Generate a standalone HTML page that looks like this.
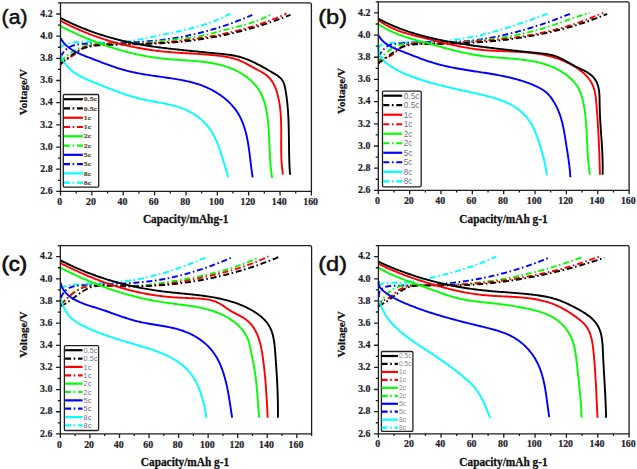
<!DOCTYPE html>
<html><head><meta charset="utf-8"><style>
html,body{margin:0;padding:0;background:#fff;width:637px;height:469px;overflow:hidden}
svg{display:block}
.tk{font-family:"Liberation Serif",serif;font-weight:bold;font-size:9.9px;fill:#1c1c28;stroke:#1c1c28;stroke-width:0.2px}
.ttl{font-family:"Liberation Serif",serif;font-weight:bold;font-size:11px;fill:#111;stroke:#111;stroke-width:0.25px}
.pl{font-family:"Liberation Sans",sans-serif;font-size:20.8px;fill:#111;stroke:#111;stroke-width:0.5px}
.lg-serif{font-family:"Liberation Serif",serif;font-weight:bold;font-size:6.6px;fill:#5e5040;stroke:#5e5040;stroke-width:0.2px}
.lg-sans{font-family:"Liberation Sans",sans-serif;font-size:8.2px;fill:#707080}
.lg-sansc{font-family:"Liberation Sans",sans-serif;font-size:7.3px;fill:#7a7088}
.lg-sans2{font-family:"Liberation Sans",sans-serif;font-size:6.6px;fill:#8c8896}
</style></head><body>
<svg width="637" height="469" viewBox="0 0 637 469">
<rect width="637" height="469" fill="#fff"/>
<path d="M60.90,47.20 L62.08,46.15 L63.39,45.42 L64.73,44.77 L66.10,44.22 L67.49,43.74 L68.91,43.33 L70.34,42.99 L71.79,42.69 L73.24,42.45 L74.71,42.24 L76.19,42.07 L77.68,41.94 L79.17,41.84 L80.67,41.77 L82.18,41.73 L83.69,41.72 L85.21,41.72 L86.74,41.75 L88.27,41.79 L89.80,41.85 L91.34,41.91 L92.88,41.99 L94.42,42.07 L95.96,42.16 L97.51,42.25 L99.05,42.33 L100.60,42.41 L102.14,42.48 L103.69,42.55 L105.23,42.60 L106.77,42.63 L108.31,42.65 L109.84,42.64 L111.37,42.62 L112.90,42.58 L114.42,42.52 L115.94,42.44 L117.46,42.35 L118.97,42.24 L120.48,42.11 L122.00,41.97 L123.50,41.82 L125.01,41.65 L126.51,41.46 L128.01,41.27 L129.51,41.06 L131.01,40.84 L132.51,40.62 L134.00,40.38 L135.49,40.13 L136.99,39.87 L138.48,39.61 L139.97,39.34 L141.46,39.06 L142.94,38.77 L144.43,38.48 L145.92,38.19 L147.40,37.89 L148.89,37.59 L150.38,37.28 L151.86,36.98 L153.35,36.67 L154.83,36.36 L156.32,36.05 L157.81,35.74 L159.29,35.43 L160.78,35.12 L162.27,34.81 L163.75,34.50 L165.24,34.20 L166.73,33.89 L168.22,33.58 L169.70,33.27 L171.19,32.95 L172.68,32.64 L174.16,32.32 L175.64,32.00 L177.13,31.67 L178.61,31.35 L180.09,31.01 L181.57,30.68 L183.05,30.33 L184.53,29.99 L186.00,29.63 L187.47,29.27 L188.94,28.91 L190.41,28.54 L191.88,28.16 L193.34,27.77 L194.80,27.37 L196.26,26.97 L197.72,26.56 L199.17,26.13 L200.62,25.70 L202.07,25.26 L203.51,24.81 L204.95,24.34 L206.39,23.87 L207.82,23.38 L209.25,22.89 L210.68,22.38 L212.10,21.85 L213.52,21.32 L214.93,20.77 L216.34,20.21 L217.74,19.63 L219.14,19.04 L220.54,18.43 L221.93,17.81 L223.31,17.17 L224.69,16.51 L226.06,15.84 L227.43,15.15 L228.80,14.45 L230.20,13.90" stroke="#00ffff" stroke-width="1.9" fill="none" stroke-linejoin="round" stroke-dasharray="6 2.6 1.6 2.8"/>
<path d="M60.90,56.80 L61.51,55.30 L62.39,53.80 L63.33,52.44 L64.32,51.21 L65.38,50.10 L66.49,49.11 L67.64,48.23 L68.85,47.45 L70.10,46.77 L71.39,46.18 L72.72,45.67 L74.09,45.23 L75.49,44.87 L76.91,44.57 L78.36,44.33 L79.83,44.14 L81.33,43.99 L82.84,43.88 L84.36,43.79 L85.89,43.74 L87.43,43.69 L88.97,43.66 L90.51,43.63 L92.05,43.61 L93.59,43.58 L95.13,43.55 L96.67,43.52 L98.21,43.50 L99.74,43.47 L101.28,43.44 L102.81,43.40 L104.35,43.37 L105.88,43.34 L107.41,43.30 L108.94,43.27 L110.46,43.23 L111.99,43.19 L113.52,43.14 L115.04,43.10 L116.57,43.05 L118.09,43.00 L119.61,42.95 L121.13,42.90 L122.65,42.84 L124.17,42.78 L125.69,42.71 L127.21,42.65 L128.72,42.58 L130.24,42.50 L131.75,42.43 L133.27,42.34 L134.78,42.26 L136.29,42.17 L137.81,42.08 L139.32,41.98 L140.83,41.88 L142.34,41.77 L143.85,41.66 L145.35,41.54 L146.86,41.42 L148.37,41.29 L149.87,41.16 L151.38,41.02 L152.88,40.87 L154.39,40.73 L155.89,40.57 L157.39,40.41 L158.90,40.24 L160.40,40.07 L161.90,39.89 L163.40,39.70 L164.90,39.50 L166.40,39.30 L167.90,39.10 L169.40,38.88 L170.89,38.66 L172.39,38.43 L173.89,38.19 L175.39,37.95 L176.88,37.69 L178.38,37.43 L179.87,37.16 L181.37,36.89 L182.86,36.61 L184.35,36.32 L185.84,36.02 L187.33,35.72 L188.82,35.40 L190.31,35.08 L191.80,34.76 L193.28,34.42 L194.77,34.08 L196.25,33.74 L197.73,33.38 L199.21,33.02 L200.69,32.65 L202.17,32.27 L203.64,31.89 L205.11,31.50 L206.59,31.10 L208.05,30.70 L209.52,30.29 L210.99,29.87 L212.45,29.45 L213.91,29.02 L215.37,28.58 L216.83,28.13 L218.28,27.68 L219.73,27.22 L221.18,26.76 L222.63,26.29 L224.07,25.81 L225.51,25.33 L226.95,24.84 L228.39,24.34 L229.82,23.83 L231.25,23.32 L232.68,22.81 L234.10,22.29 L235.52,21.76 L236.94,21.22 L238.35,20.68 L239.77,20.13 L241.17,19.58 L242.58,19.02 L243.98,18.45 L245.37,17.88 L246.77,17.30 L248.16,16.72 L249.54,16.13 L250.92,15.53 L252.30,14.80" stroke="#0000ff" stroke-width="1.9" fill="none" stroke-linejoin="round" stroke-dasharray="6 2.6 1.6 2.8"/>
<path d="M60.40,61.10 L61.64,60.28 L62.81,59.28 L63.98,58.29 L65.16,57.30 L66.35,56.32 L67.55,55.35 L68.77,54.41 L70.00,53.49 L71.24,52.61 L72.51,51.76 L73.80,50.96 L75.11,50.20 L76.43,49.49 L77.78,48.83 L79.15,48.21 L80.53,47.63 L81.93,47.09 L83.34,46.60 L84.76,46.14 L86.20,45.73 L87.65,45.35 L89.10,45.01 L90.57,44.71 L92.04,44.44 L93.52,44.21 L95.01,44.01 L96.50,43.84 L98.00,43.69 L99.50,43.58 L101.01,43.48 L102.52,43.41 L104.04,43.36 L105.56,43.33 L107.08,43.31 L108.61,43.31 L110.14,43.33 L111.68,43.35 L113.21,43.38 L114.75,43.42 L116.29,43.47 L117.83,43.52 L119.37,43.57 L120.91,43.62 L122.45,43.66 L123.99,43.71 L125.53,43.75 L127.06,43.77 L128.60,43.79 L130.13,43.80 L131.66,43.80 L133.19,43.78 L134.72,43.74 L136.24,43.68 L137.76,43.60 L139.27,43.50 L140.78,43.38 L142.29,43.24 L143.79,43.08 L145.29,42.91 L146.79,42.72 L148.29,42.53 L149.79,42.33 L151.28,42.12 L152.78,41.92 L154.27,41.71 L155.77,41.50 L157.27,41.30 L158.77,41.11 L160.27,40.92 L161.78,40.74 L163.29,40.57 L164.79,40.41 L166.30,40.25 L167.81,40.09 L169.33,39.94 L170.84,39.79 L172.35,39.64 L173.87,39.49 L175.38,39.34 L176.90,39.19 L178.41,39.04 L179.92,38.88 L181.44,38.72 L182.95,38.56 L184.46,38.39 L185.98,38.21 L187.49,38.03 L188.99,37.84 L190.50,37.64 L192.01,37.43 L193.51,37.21 L195.01,36.98 L196.51,36.74 L198.01,36.48 L199.50,36.21 L200.99,35.92 L202.48,35.62 L203.96,35.30 L205.45,34.97 L206.92,34.62 L208.40,34.25 L209.87,33.88 L211.35,33.50 L212.82,33.11 L214.29,32.72 L215.76,32.33 L217.23,31.94 L218.70,31.55 L220.18,31.17 L221.65,30.79 L223.12,30.42 L224.60,30.05 L226.07,29.68 L227.55,29.31 L229.02,28.94 L230.49,28.56 L231.97,28.19 L233.44,27.82 L234.91,27.44 L236.38,27.06 L237.85,26.67 L239.31,26.28 L240.78,25.88 L242.24,25.47 L243.70,25.06 L245.15,24.64 L246.61,24.21 L248.06,23.77 L249.50,23.32 L250.95,22.85 L252.38,22.38 L253.82,21.89 L255.25,21.39 L256.68,20.87 L258.10,20.34 L259.51,19.79 L260.92,19.23 L262.33,18.64 L263.73,18.04 L265.13,17.42 L266.51,16.78 L267.90,16.12 L269.27,15.44 L270.64,14.73 L272.00,14.00" stroke="#00ff00" stroke-width="1.9" fill="none" stroke-linejoin="round" stroke-dasharray="6 2.6 1.6 2.8"/>
<path d="M60.40,65.00 L61.41,63.82 L62.50,62.76 L63.64,61.76 L64.82,60.83 L66.04,59.94 L67.29,59.09 L68.55,58.27 L69.84,57.46 L71.12,56.66 L72.41,55.85 L73.69,55.02 L74.95,54.17 L76.19,53.27 L77.40,52.32 L78.59,51.33 L79.76,50.33 L80.94,49.36 L82.14,48.46 L83.39,47.66 L84.71,47.01 L86.09,46.51 L87.52,46.13 L88.98,45.82 L90.45,45.55 L91.93,45.31 L93.42,45.09 L94.91,44.90 L96.40,44.72 L97.90,44.57 L99.40,44.43 L100.90,44.32 L102.41,44.21 L103.92,44.13 L105.43,44.05 L106.95,44.00 L108.47,43.95 L109.99,43.91 L111.51,43.89 L113.03,43.87 L114.56,43.86 L116.09,43.86 L117.62,43.86 L119.14,43.87 L120.67,43.88 L122.20,43.89 L123.73,43.91 L125.26,43.92 L126.79,43.94 L128.32,43.95 L129.85,43.96 L131.37,43.96 L132.90,43.96 L134.42,43.96 L135.95,43.94 L137.47,43.92 L138.99,43.89 L140.50,43.85 L142.02,43.80 L143.53,43.74 L145.04,43.67 L146.55,43.59 L148.06,43.51 L149.57,43.42 L151.07,43.33 L152.58,43.23 L154.09,43.12 L155.59,43.01 L157.10,42.90 L158.60,42.78 L160.11,42.66 L161.62,42.53 L163.13,42.41 L164.63,42.27 L166.14,42.14 L167.65,42.00 L169.16,41.86 L170.67,41.72 L172.17,41.57 L173.68,41.42 L175.19,41.26 L176.70,41.10 L178.21,40.94 L179.71,40.77 L181.22,40.60 L182.73,40.42 L184.24,40.24 L185.74,40.06 L187.25,39.87 L188.76,39.67 L190.26,39.48 L191.77,39.28 L193.27,39.07 L194.78,38.86 L196.28,38.64 L197.78,38.42 L199.28,38.20 L200.79,37.97 L202.29,37.73 L203.79,37.49 L205.29,37.25 L206.78,37.00 L208.28,36.74 L209.78,36.48 L211.27,36.22 L212.77,35.95 L214.26,35.67 L215.75,35.39 L217.24,35.10 L218.73,34.81 L220.22,34.51 L221.71,34.20 L223.19,33.89 L224.67,33.58 L226.16,33.26 L227.64,32.93 L229.12,32.60 L230.60,32.26 L232.07,31.91 L233.55,31.56 L235.02,31.20 L236.49,30.83 L237.96,30.46 L239.43,30.08 L240.90,29.70 L242.36,29.31 L243.82,28.91 L245.28,28.51 L246.74,28.10 L248.20,27.68 L249.65,27.25 L251.10,26.82 L252.55,26.38 L254.00,25.94 L255.44,25.48 L256.89,25.02 L258.33,24.55 L259.77,24.08 L261.20,23.60 L262.64,23.11 L264.07,22.61 L265.49,22.10 L266.92,21.59 L268.34,21.07 L269.76,20.54 L271.18,20.01 L272.60,19.46 L274.01,18.91 L275.42,18.35 L276.82,17.78 L278.23,17.21 L279.63,16.62 L281.02,16.03 L282.42,15.43 L283.81,14.82 L285.20,14.20 L286.50,13.40" stroke="#ff0000" stroke-width="1.9" fill="none" stroke-linejoin="round" stroke-dasharray="6 2.6 1.6 2.8"/>
<path d="M60.40,63.50 L61.69,62.84 L62.92,61.95 L64.14,61.04 L65.35,60.10 L66.57,59.15 L67.79,58.19 L69.01,57.23 L70.23,56.27 L71.46,55.33 L72.70,54.40 L73.95,53.50 L75.21,52.63 L76.49,51.80 L77.78,51.01 L79.09,50.28 L80.41,49.61 L81.76,48.99 L83.13,48.44 L84.51,47.94 L85.91,47.50 L87.32,47.11 L88.75,46.76 L90.20,46.45 L91.65,46.19 L93.12,45.96 L94.60,45.76 L96.08,45.60 L97.58,45.46 L99.08,45.34 L100.59,45.25 L102.10,45.17 L103.62,45.10 L105.13,45.05 L106.66,45.00 L108.18,44.96 L109.70,44.92 L111.22,44.88 L112.74,44.83 L114.26,44.79 L115.78,44.76 L117.30,44.72 L118.82,44.68 L120.34,44.64 L121.86,44.60 L123.38,44.56 L124.89,44.52 L126.41,44.49 L127.93,44.45 L129.45,44.41 L130.96,44.36 L132.48,44.32 L134.00,44.28 L135.51,44.24 L137.03,44.19 L138.54,44.14 L140.06,44.10 L141.57,44.04 L143.09,43.99 L144.60,43.94 L146.11,43.88 L147.63,43.82 L149.14,43.76 L150.65,43.70 L152.16,43.64 L153.67,43.57 L155.19,43.50 L156.70,43.42 L158.21,43.34 L159.72,43.26 L161.23,43.18 L162.73,43.09 L164.24,43.00 L165.75,42.90 L167.26,42.80 L168.77,42.70 L170.27,42.59 L171.78,42.48 L173.28,42.36 L174.79,42.24 L176.29,42.12 L177.80,41.99 L179.30,41.85 L180.81,41.71 L182.31,41.56 L183.81,41.41 L185.31,41.25 L186.82,41.09 L188.32,40.92 L189.82,40.74 L191.32,40.56 L192.82,40.38 L194.31,40.18 L195.81,39.98 L197.31,39.78 L198.81,39.57 L200.30,39.35 L201.80,39.13 L203.29,38.90 L204.79,38.67 L206.28,38.43 L207.77,38.18 L209.26,37.93 L210.76,37.67 L212.24,37.41 L213.73,37.14 L215.22,36.86 L216.71,36.58 L218.19,36.29 L219.68,36.00 L221.16,35.70 L222.64,35.40 L224.13,35.09 L225.61,34.77 L227.08,34.45 L228.56,34.12 L230.04,33.79 L231.51,33.45 L232.99,33.11 L234.46,32.75 L235.93,32.40 L237.40,32.04 L238.87,31.67 L240.34,31.30 L241.80,30.92 L243.27,30.53 L244.73,30.14 L246.19,29.75 L247.65,29.34 L249.11,28.94 L250.56,28.52 L252.02,28.11 L253.47,27.68 L254.92,27.25 L256.37,26.82 L257.82,26.38 L259.26,25.93 L260.71,25.48 L262.15,25.02 L263.59,24.56 L265.03,24.09 L266.46,23.61 L267.90,23.13 L269.33,22.65 L270.76,22.16 L272.19,21.66 L273.61,21.16 L275.04,20.65 L276.46,20.14 L277.88,19.62 L279.30,19.10 L280.71,18.57 L282.12,18.03 L283.54,17.49 L284.94,16.95 L286.35,16.39 L287.75,15.84 L289.16,15.28 L290.60,14.80" stroke="#000000" stroke-width="1.9" fill="none" stroke-linejoin="round" stroke-dasharray="6 2.6 1.6 2.8"/>
<path d="M60.70,55.00 L61.11,56.54 L61.73,58.00 L62.41,59.40 L63.15,60.75 L63.93,62.05 L64.77,63.29 L65.65,64.49 L66.58,65.63 L67.55,66.74 L68.56,67.79 L69.61,68.81 L70.70,69.79 L71.83,70.73 L72.99,71.63 L74.18,72.50 L75.40,73.33 L76.65,74.14 L77.93,74.91 L79.23,75.66 L80.55,76.38 L81.89,77.08 L83.25,77.76 L84.63,78.42 L86.02,79.07 L87.42,79.69 L88.84,80.30 L90.26,80.90 L91.69,81.49 L93.12,82.07 L94.56,82.65 L95.99,83.21 L97.43,83.78 L98.86,84.35 L100.29,84.91 L101.71,85.48 L103.13,86.04 L104.55,86.60 L105.96,87.16 L107.37,87.72 L108.78,88.27 L110.19,88.82 L111.59,89.37 L113.00,89.91 L114.40,90.45 L115.81,90.98 L117.21,91.51 L118.62,92.03 L120.02,92.54 L121.43,93.04 L122.84,93.54 L124.25,94.03 L125.67,94.51 L127.08,94.98 L128.50,95.44 L129.93,95.90 L131.36,96.34 L132.79,96.77 L134.23,97.18 L135.67,97.59 L137.12,97.98 L138.57,98.36 L140.04,98.73 L141.50,99.08 L142.98,99.41 L144.46,99.74 L145.95,100.05 L147.45,100.35 L148.94,100.64 L150.45,100.93 L151.95,101.21 L153.46,101.48 L154.97,101.76 L156.48,102.03 L157.99,102.31 L159.50,102.58 L161.01,102.86 L162.52,103.15 L164.03,103.44 L165.53,103.75 L167.03,104.06 L168.52,104.38 L170.01,104.72 L171.49,105.08 L172.96,105.45 L174.43,105.84 L175.89,106.25 L177.34,106.68 L178.78,107.13 L180.21,107.61 L181.63,108.12 L183.03,108.65 L184.43,109.22 L185.81,109.81 L187.17,110.44 L188.52,111.10 L189.86,111.79 L191.17,112.51 L192.47,113.26 L193.75,114.04 L195.01,114.85 L196.25,115.70 L197.47,116.57 L198.66,117.47 L199.83,118.41 L200.98,119.37 L202.10,120.36 L203.19,121.38 L204.25,122.43 L205.29,123.50 L206.30,124.61 L207.27,125.74 L208.21,126.90 L209.12,128.09 L210.00,129.30 L210.84,130.54 L211.66,131.81 L212.44,133.10 L213.19,134.41 L213.91,135.74 L214.61,137.09 L215.28,138.46 L215.93,139.84 L216.56,141.24 L217.16,142.66 L217.74,144.08 L218.31,145.52 L218.85,146.97 L219.38,148.43 L219.90,149.89 L220.40,151.36 L220.88,152.83 L221.36,154.31 L221.82,155.79 L222.28,157.27 L222.73,158.75 L223.17,160.22 L223.60,161.70 L224.03,163.16 L224.46,164.63 L224.89,166.08 L225.31,167.52 L225.74,168.96 L226.17,170.38 L226.60,171.79 L227.04,173.19 L227.48,174.57 L227.93,175.93 L228.40,177.30" stroke="#00ffff" stroke-width="1.9" fill="none" stroke-linejoin="round"/>
<path d="M60.70,38.20 L61.40,39.63 L62.27,40.91 L63.19,42.13 L64.16,43.28 L65.17,44.37 L66.23,45.41 L67.33,46.39 L68.47,47.33 L69.65,48.21 L70.85,49.05 L72.10,49.85 L73.37,50.61 L74.66,51.34 L75.98,52.03 L77.32,52.70 L78.69,53.34 L80.06,53.96 L81.46,54.55 L82.86,55.13 L84.28,55.70 L85.70,56.26 L87.13,56.81 L88.55,57.36 L89.98,57.90 L91.41,58.45 L92.83,59.00 L94.26,59.54 L95.68,60.09 L97.10,60.64 L98.51,61.19 L99.93,61.73 L101.35,62.27 L102.77,62.81 L104.18,63.34 L105.60,63.87 L107.02,64.40 L108.43,64.92 L109.85,65.43 L111.27,65.93 L112.69,66.43 L114.12,66.91 L115.54,67.39 L116.97,67.86 L118.40,68.32 L119.84,68.76 L121.27,69.20 L122.71,69.62 L124.15,70.02 L125.60,70.42 L127.05,70.80 L128.51,71.16 L129.97,71.52 L131.43,71.86 L132.90,72.18 L134.37,72.50 L135.84,72.80 L137.31,73.10 L138.79,73.38 L140.27,73.66 L141.76,73.93 L143.24,74.19 L144.73,74.44 L146.22,74.68 L147.71,74.92 L149.20,75.16 L150.70,75.38 L152.19,75.61 L153.69,75.83 L155.19,76.05 L156.69,76.26 L158.18,76.47 L159.68,76.68 L161.18,76.90 L162.68,77.11 L164.18,77.32 L165.68,77.53 L167.18,77.74 L168.68,77.96 L170.18,78.17 L171.67,78.40 L173.17,78.63 L174.66,78.86 L176.15,79.10 L177.64,79.35 L179.13,79.61 L180.62,79.88 L182.10,80.16 L183.58,80.45 L185.05,80.76 L186.52,81.08 L187.99,81.41 L189.46,81.76 L190.92,82.12 L192.37,82.50 L193.82,82.90 L195.27,83.32 L196.71,83.76 L198.15,84.22 L199.58,84.70 L201.00,85.20 L202.42,85.73 L203.83,86.28 L205.24,86.86 L206.64,87.46 L208.03,88.09 L209.41,88.75 L210.78,89.43 L212.14,90.14 L213.49,90.87 L214.82,91.63 L216.14,92.41 L217.44,93.22 L218.73,94.05 L220.00,94.91 L221.25,95.79 L222.49,96.69 L223.70,97.62 L224.88,98.57 L226.05,99.55 L227.19,100.55 L228.31,101.57 L229.40,102.62 L230.46,103.69 L231.49,104.78 L232.49,105.89 L233.47,107.03 L234.41,108.19 L235.31,109.37 L236.19,110.57 L237.03,111.80 L237.83,113.04 L238.60,114.31 L239.33,115.59 L240.02,116.90 L240.69,118.22 L241.32,119.57 L241.92,120.92 L242.49,122.30 L243.04,123.69 L243.55,125.09 L244.04,126.51 L244.51,127.94 L244.95,129.39 L245.36,130.84 L245.76,132.31 L246.13,133.78 L246.48,135.27 L246.82,136.76 L247.13,138.26 L247.43,139.77 L247.72,141.28 L247.99,142.79 L248.25,144.32 L248.49,145.84 L248.72,147.37 L248.94,148.90 L249.16,150.42 L249.36,151.95 L249.56,153.48 L249.75,155.01 L249.94,156.54 L250.12,158.06 L250.30,159.58 L250.48,161.09 L250.66,162.60 L250.84,164.10 L251.02,165.60 L251.21,167.08 L251.39,168.56 L251.59,170.03 L251.79,171.49 L251.99,172.94 L252.21,174.37 L252.43,175.79 L252.60,177.30" stroke="#0000ff" stroke-width="1.9" fill="none" stroke-linejoin="round"/>
<path d="M60.60,26.20 L61.90,26.90 L63.27,27.58 L64.65,28.26 L66.02,28.94 L67.40,29.61 L68.78,30.27 L70.16,30.93 L71.54,31.58 L72.92,32.23 L74.30,32.87 L75.69,33.50 L77.07,34.13 L78.46,34.75 L79.85,35.37 L81.24,35.98 L82.63,36.58 L84.02,37.18 L85.42,37.77 L86.81,38.35 L88.21,38.93 L89.61,39.50 L91.01,40.07 L92.41,40.63 L93.81,41.18 L95.22,41.72 L96.63,42.26 L98.04,42.79 L99.45,43.31 L100.86,43.83 L102.28,44.34 L103.69,44.84 L105.11,45.34 L106.53,45.83 L107.95,46.31 L109.38,46.78 L110.80,47.25 L112.23,47.71 L113.66,48.16 L115.09,48.60 L116.53,49.04 L117.96,49.47 L119.40,49.89 L120.84,50.30 L122.29,50.71 L123.73,51.11 L125.18,51.50 L126.63,51.88 L128.08,52.25 L129.54,52.62 L130.99,52.97 L132.45,53.32 L133.92,53.67 L135.38,54.00 L136.85,54.32 L138.32,54.64 L139.79,54.94 L141.26,55.24 L142.74,55.53 L144.22,55.81 L145.70,56.09 L147.19,56.35 L148.68,56.61 L150.17,56.85 L151.66,57.09 L153.16,57.32 L154.66,57.54 L156.16,57.75 L157.66,57.95 L159.17,58.14 L160.68,58.32 L162.19,58.50 L163.71,58.66 L165.23,58.81 L166.75,58.96 L168.28,59.10 L169.81,59.23 L171.34,59.35 L172.87,59.47 L174.40,59.58 L175.94,59.68 L177.47,59.79 L179.01,59.89 L180.54,59.99 L182.08,60.09 L183.62,60.19 L185.15,60.29 L186.69,60.39 L188.22,60.50 L189.76,60.61 L191.29,60.72 L192.82,60.84 L194.34,60.96 L195.87,61.09 L197.39,61.22 L198.91,61.37 L200.43,61.53 L201.94,61.69 L203.45,61.87 L204.96,62.05 L206.46,62.25 L207.96,62.47 L209.45,62.69 L210.93,62.94 L212.41,63.19 L213.89,63.47 L215.36,63.76 L216.82,64.07 L218.28,64.40 L219.73,64.75 L221.17,65.12 L222.61,65.51 L224.03,65.93 L225.45,66.37 L226.87,66.83 L228.27,67.32 L229.66,67.83 L231.05,68.37 L232.42,68.94 L233.79,69.54 L235.15,70.16 L236.49,70.82 L237.83,71.50 L239.16,72.22 L240.47,72.97 L241.77,73.75 L243.05,74.56 L244.31,75.40 L245.56,76.27 L246.78,77.18 L247.98,78.11 L249.16,79.07 L250.31,80.06 L251.43,81.09 L252.52,82.14 L253.58,83.22 L254.60,84.32 L255.59,85.46 L256.54,86.63 L257.45,87.82 L258.32,89.04 L259.15,90.29 L259.94,91.56 L260.67,92.87 L261.36,94.19 L262.01,95.55 L262.60,96.93 L263.16,98.33 L263.67,99.75 L264.15,101.18 L264.59,102.64 L265.00,104.10 L265.38,105.58 L265.72,107.07 L266.04,108.57 L266.34,110.08 L266.61,111.58 L266.87,113.10 L267.10,114.61 L267.32,116.12 L267.53,117.64 L267.72,119.15 L267.89,120.66 L268.05,122.18 L268.20,123.69 L268.34,125.21 L268.46,126.72 L268.58,128.24 L268.69,129.76 L268.79,131.27 L268.88,132.79 L268.96,134.30 L269.04,135.82 L269.11,137.33 L269.18,138.85 L269.25,140.36 L269.31,141.87 L269.37,143.39 L269.43,144.90 L269.49,146.41 L269.55,147.92 L269.62,149.44 L269.68,150.95 L269.75,152.46 L269.82,153.97 L269.89,155.47 L269.98,156.98 L270.06,158.49 L270.16,159.99 L270.26,161.50 L270.37,163.00 L270.50,164.51 L270.63,166.01 L270.77,167.51 L270.93,169.01 L271.10,170.50 L271.28,172.00 L271.47,173.49 L271.69,174.99 L271.92,176.48 L272.10,178.00" stroke="#00ff00" stroke-width="1.9" fill="none" stroke-linejoin="round"/>
<path d="M60.60,20.80 L61.93,21.53 L63.27,22.23 L64.61,22.93 L65.95,23.62 L67.30,24.30 L68.66,24.97 L70.02,25.64 L71.38,26.29 L72.74,26.94 L74.11,27.58 L75.48,28.21 L76.86,28.83 L78.24,29.45 L79.62,30.06 L81.01,30.65 L82.40,31.24 L83.79,31.82 L85.19,32.40 L86.59,32.96 L88.00,33.52 L89.40,34.07 L90.81,34.61 L92.22,35.14 L93.64,35.67 L95.06,36.19 L96.48,36.69 L97.91,37.19 L99.33,37.69 L100.76,38.17 L102.20,38.65 L103.63,39.12 L105.07,39.58 L106.51,40.03 L107.95,40.48 L109.40,40.91 L110.85,41.34 L112.30,41.76 L113.75,42.18 L115.21,42.58 L116.67,42.98 L118.13,43.37 L119.59,43.75 L121.05,44.12 L122.52,44.49 L123.99,44.85 L125.46,45.20 L126.93,45.54 L128.40,45.88 L129.88,46.20 L131.36,46.52 L132.84,46.84 L134.32,47.14 L135.80,47.44 L137.28,47.73 L138.77,48.01 L140.26,48.28 L141.74,48.55 L143.23,48.81 L144.72,49.06 L146.22,49.30 L147.71,49.54 L149.21,49.76 L150.70,49.98 L152.20,50.20 L153.70,50.40 L155.19,50.60 L156.69,50.79 L158.20,50.98 L159.70,51.15 L161.20,51.32 L162.70,51.48 L164.21,51.63 L165.71,51.78 L167.22,51.92 L168.72,52.05 L170.23,52.18 L171.73,52.30 L173.24,52.42 L174.75,52.53 L176.26,52.63 L177.76,52.73 L179.27,52.83 L180.78,52.93 L182.29,53.02 L183.80,53.11 L185.31,53.20 L186.82,53.29 L188.33,53.38 L189.83,53.47 L191.34,53.56 L192.85,53.64 L194.36,53.73 L195.87,53.83 L197.38,53.92 L198.89,54.02 L200.39,54.12 L201.90,54.22 L203.41,54.32 L204.92,54.44 L206.42,54.55 L207.93,54.67 L209.43,54.80 L210.94,54.93 L212.44,55.08 L213.95,55.22 L215.45,55.38 L216.95,55.54 L218.45,55.71 L219.95,55.89 L221.45,56.09 L222.95,56.30 L224.44,56.52 L225.92,56.77 L227.40,57.03 L228.87,57.33 L230.34,57.64 L231.79,57.99 L233.23,58.37 L234.67,58.78 L236.09,59.24 L237.49,59.72 L238.88,60.26 L240.26,60.83 L241.63,61.43 L242.99,62.07 L244.34,62.74 L245.69,63.43 L247.03,64.14 L248.38,64.86 L249.73,65.60 L251.08,66.34 L252.45,67.08 L253.82,67.83 L255.20,68.56 L256.60,69.30 L257.99,70.03 L259.38,70.77 L260.75,71.53 L262.10,72.31 L263.41,73.11 L264.69,73.95 L265.92,74.83 L267.09,75.75 L268.20,76.73 L269.24,77.76 L270.21,78.85 L271.11,79.98 L271.95,81.17 L272.74,82.39 L273.47,83.66 L274.14,84.96 L274.77,86.29 L275.35,87.66 L275.89,89.04 L276.38,90.45 L276.84,91.88 L277.26,93.32 L277.66,94.78 L278.02,96.24 L278.36,97.71 L278.68,99.18 L278.97,100.66 L279.24,102.14 L279.48,103.62 L279.71,105.11 L279.92,106.60 L280.10,108.10 L280.27,109.60 L280.42,111.10 L280.56,112.61 L280.68,114.12 L280.78,115.63 L280.87,117.14 L280.95,118.66 L281.01,120.18 L281.07,121.70 L281.11,123.22 L281.15,124.74 L281.17,126.27 L281.19,127.80 L281.21,129.32 L281.21,130.85 L281.21,132.38 L281.21,133.91 L281.21,135.44 L281.20,136.97 L281.19,138.50 L281.19,140.03 L281.18,141.55 L281.17,143.08 L281.17,144.61 L281.17,146.13 L281.17,147.66 L281.18,149.18 L281.19,150.70 L281.22,152.22 L281.25,153.74 L281.28,155.25 L281.33,156.76 L281.39,158.27 L281.46,159.78 L281.54,161.28 L281.64,162.79 L281.75,164.28 L281.87,165.78 L282.01,167.27 L282.17,168.75 L282.34,170.23 L282.54,171.71 L282.75,173.19 L282.90,174.70" stroke="#ff0000" stroke-width="1.9" fill="none" stroke-linejoin="round"/>
<path d="M60.60,18.10 L61.96,18.73 L63.31,19.41 L64.66,20.09 L66.02,20.75 L67.38,21.41 L68.75,22.06 L70.11,22.70 L71.48,23.33 L72.86,23.95 L74.24,24.57 L75.62,25.18 L77.00,25.77 L78.39,26.37 L79.78,26.95 L81.18,27.52 L82.57,28.09 L83.97,28.65 L85.38,29.20 L86.78,29.75 L88.19,30.28 L89.60,30.81 L91.02,31.33 L92.44,31.84 L93.86,32.34 L95.28,32.84 L96.71,33.33 L98.13,33.81 L99.56,34.28 L101.00,34.75 L102.43,35.21 L103.87,35.66 L105.31,36.10 L106.76,36.54 L108.20,36.96 L109.65,37.38 L111.10,37.80 L112.55,38.20 L114.01,38.60 L115.46,38.99 L116.92,39.37 L118.38,39.75 L119.84,40.12 L121.31,40.48 L122.77,40.83 L124.24,41.18 L125.71,41.52 L127.18,41.85 L128.65,42.18 L130.13,42.49 L131.60,42.80 L133.08,43.11 L134.56,43.40 L136.04,43.69 L137.52,43.97 L139.00,44.25 L140.49,44.52 L141.97,44.78 L143.46,45.04 L144.95,45.28 L146.44,45.53 L147.93,45.76 L149.42,46.00 L150.91,46.22 L152.40,46.44 L153.90,46.66 L155.39,46.87 L156.89,47.07 L158.38,47.27 L159.88,47.47 L161.37,47.66 L162.87,47.85 L164.37,48.04 L165.87,48.22 L167.37,48.40 L168.87,48.57 L170.36,48.74 L171.86,48.91 L173.36,49.08 L174.86,49.24 L176.36,49.41 L177.86,49.56 L179.36,49.72 L180.86,49.88 L182.36,50.03 L183.86,50.19 L185.36,50.34 L186.85,50.49 L188.35,50.64 L189.85,50.80 L191.34,50.95 L192.84,51.10 L194.34,51.25 L195.83,51.40 L197.33,51.55 L198.82,51.70 L200.32,51.85 L201.81,52.00 L203.31,52.15 L204.81,52.30 L206.31,52.44 L207.81,52.59 L209.31,52.74 L210.81,52.89 L212.31,53.03 L213.82,53.18 L215.33,53.33 L216.84,53.47 L218.35,53.62 L219.87,53.76 L221.38,53.91 L222.90,54.06 L224.41,54.22 L225.93,54.39 L227.44,54.57 L228.94,54.76 L230.44,54.98 L231.94,55.21 L233.42,55.47 L234.90,55.75 L236.37,56.06 L237.83,56.39 L239.27,56.76 L240.71,57.17 L242.13,57.60 L243.54,58.06 L244.95,58.55 L246.34,59.07 L247.73,59.61 L249.10,60.18 L250.48,60.77 L251.84,61.39 L253.20,62.02 L254.56,62.67 L255.91,63.34 L257.26,64.03 L258.60,64.73 L259.95,65.45 L261.29,66.18 L262.63,66.92 L263.97,67.67 L265.31,68.43 L266.66,69.19 L268.01,69.97 L269.35,70.75 L270.71,71.53 L272.07,72.31 L273.43,73.10 L274.78,73.89 L276.10,74.71 L277.38,75.56 L278.60,76.45 L279.74,77.39 L280.79,78.39 L281.73,79.46 L282.54,80.61 L283.22,81.85 L283.79,83.16 L284.26,84.54 L284.65,85.95 L284.98,87.40 L285.27,88.87 L285.54,90.35 L285.79,91.84 L286.04,93.32 L286.26,94.81 L286.48,96.29 L286.68,97.79 L286.87,99.28 L287.05,100.77 L287.22,102.27 L287.37,103.77 L287.52,105.27 L287.66,106.77 L287.78,108.27 L287.90,109.78 L288.01,111.29 L288.11,112.79 L288.20,114.30 L288.28,115.81 L288.36,117.32 L288.43,118.84 L288.49,120.35 L288.55,121.86 L288.60,123.38 L288.65,124.89 L288.69,126.41 L288.73,127.92 L288.76,129.44 L288.80,130.96 L288.82,132.47 L288.85,133.99 L288.87,135.51 L288.89,137.02 L288.91,138.54 L288.93,140.06 L288.95,141.57 L288.97,143.09 L288.99,144.61 L289.01,146.12 L289.03,147.63 L289.05,149.15 L289.07,150.66 L289.10,152.17 L289.13,153.68 L289.16,155.19 L289.19,156.70 L289.23,158.21 L289.28,159.71 L289.33,161.22 L289.38,162.72 L289.44,164.22 L289.51,165.72 L289.58,167.22 L289.66,168.71 L289.74,170.21 L289.84,171.70 L289.94,173.19 L290.00,174.70" stroke="#000000" stroke-width="1.9" fill="none" stroke-linejoin="round"/>
<path d="M60.5,2.9 H309.9 Q311.4,2.9 311.4,4.4 V191.4 H60.5 Z" fill="none" stroke="#1e1e1e" stroke-width="1.3"/>
<path d="M56.2,191.40H60.5 M57.9,180.31H60.5 M56.2,169.22H60.5 M57.9,158.14H60.5 M56.2,147.05H60.5 M57.9,135.96H60.5 M56.2,124.87H60.5 M57.9,113.78H60.5 M56.2,102.69H60.5 M57.9,91.61H60.5 M56.2,80.52H60.5 M57.9,69.43H60.5 M56.2,58.34H60.5 M57.9,47.25H60.5 M56.2,36.16H60.5 M57.9,25.08H60.5 M56.2,13.99H60.5 M57.9,2.90H60.5 M60.50,191.4V195.4 M76.18,191.4V193.6 M91.86,191.4V195.4 M107.54,191.4V193.6 M123.22,191.4V195.4 M138.91,191.4V193.6 M154.59,191.4V195.4 M170.27,191.4V193.6 M185.95,191.4V195.4 M201.63,191.4V193.6 M217.31,191.4V195.4 M232.99,191.4V193.6 M248.67,191.4V195.4 M264.36,191.4V193.6 M280.04,191.4V195.4 M295.72,191.4V193.6 M311.40,191.4V195.4" stroke="#1e1e1e" stroke-width="1.3" fill="none"/>
<text x="52.60" y="194.10" class="tk" text-anchor="end">2.6</text>
<text x="52.60" y="171.92" class="tk" text-anchor="end">2.8</text>
<text x="52.60" y="149.75" class="tk" text-anchor="end">3.0</text>
<text x="52.60" y="127.57" class="tk" text-anchor="end">3.2</text>
<text x="52.60" y="105.39" class="tk" text-anchor="end">3.4</text>
<text x="52.60" y="83.22" class="tk" text-anchor="end">3.6</text>
<text x="52.60" y="61.04" class="tk" text-anchor="end">3.8</text>
<text x="52.60" y="38.86" class="tk" text-anchor="end">4.0</text>
<text x="52.60" y="16.69" class="tk" text-anchor="end">4.2</text>
<text x="59.70" y="205.00" class="tk" text-anchor="middle">0</text>
<text x="91.06" y="205.00" class="tk" text-anchor="middle">20</text>
<text x="122.42" y="205.00" class="tk" text-anchor="middle">40</text>
<text x="153.79" y="205.00" class="tk" text-anchor="middle">60</text>
<text x="185.15" y="205.00" class="tk" text-anchor="middle">80</text>
<text x="216.51" y="205.00" class="tk" text-anchor="middle">100</text>
<text x="247.87" y="205.00" class="tk" text-anchor="middle">120</text>
<text x="279.24" y="205.00" class="tk" text-anchor="middle">140</text>
<text x="310.60" y="205.00" class="tk" text-anchor="middle">160</text>
<text transform="translate(185.7,222.8) scale(1.03,1.2)" class="ttl" text-anchor="middle">Capacity/mAhg-1</text>
<text transform="translate(27.0,92.2) rotate(-90)" class="ttl" text-anchor="middle">Voltage/V</text>
<text transform="translate(1.6,24.2) scale(1.02,1)" class="pl">(a)</text>
<rect x="63.3" y="94.5" width="35.40" height="92.60" rx="1.2" fill="#fff" stroke="#222" stroke-width="1.3"/>
<path d="M64.0,99.20H82.9" stroke="#000000" stroke-width="2.2"/>
<text transform="translate(83.8,101.40) scale(1.18,1)" class="lg-serif">0.5c</text>
<path d="M64.0,108.47H82.9" stroke="#000000" stroke-width="2.2" stroke-dasharray="6 2.6 1.6 2.8"/>
<text transform="translate(83.8,110.67) scale(1.18,1)" class="lg-serif">0.5c</text>
<path d="M64.0,117.74H82.9" stroke="#ff0000" stroke-width="2.2"/>
<text transform="translate(83.8,119.94) scale(1.18,1)" class="lg-serif">1c</text>
<path d="M64.0,127.01H82.9" stroke="#ff0000" stroke-width="2.2" stroke-dasharray="6 2.6 1.6 2.8"/>
<text transform="translate(83.8,129.21) scale(1.18,1)" class="lg-serif">1c</text>
<path d="M64.0,136.28H82.9" stroke="#00ff00" stroke-width="2.2"/>
<text transform="translate(83.8,138.48) scale(1.18,1)" class="lg-serif">2c</text>
<path d="M64.0,145.55H82.9" stroke="#00ff00" stroke-width="2.2" stroke-dasharray="6 2.6 1.6 2.8"/>
<text transform="translate(83.8,147.75) scale(1.18,1)" class="lg-serif">2c</text>
<path d="M64.0,154.82H82.9" stroke="#0000ff" stroke-width="2.2"/>
<text transform="translate(83.8,157.02) scale(1.18,1)" class="lg-serif">5c</text>
<path d="M64.0,164.09H82.9" stroke="#0000ff" stroke-width="2.2" stroke-dasharray="6 2.6 1.6 2.8"/>
<text transform="translate(83.8,166.29) scale(1.18,1)" class="lg-serif">5c</text>
<path d="M64.0,173.36H82.9" stroke="#00ffff" stroke-width="2.2"/>
<text transform="translate(83.8,175.56) scale(1.18,1)" class="lg-serif">8c</text>
<path d="M64.0,182.63H82.9" stroke="#00ffff" stroke-width="2.2" stroke-dasharray="6 2.6 1.6 2.8"/>
<text transform="translate(83.8,184.83) scale(1.18,1)" class="lg-serif">8c</text>
<path d="M378.40,48.20 L379.22,46.57 L380.32,45.48 L381.51,44.64 L382.79,44.01 L384.14,43.56 L385.55,43.25 L387.01,43.06 L388.49,42.94 L389.99,42.87 L391.50,42.81 L393.01,42.76 L394.52,42.71 L396.03,42.67 L397.54,42.62 L399.05,42.58 L400.57,42.54 L402.08,42.50 L403.60,42.47 L405.11,42.43 L406.63,42.40 L408.14,42.36 L409.66,42.33 L411.17,42.30 L412.69,42.26 L414.21,42.23 L415.72,42.19 L417.24,42.15 L418.76,42.11 L420.27,42.07 L421.79,42.02 L423.31,41.98 L424.82,41.93 L426.34,41.87 L427.85,41.81 L429.37,41.75 L430.88,41.68 L432.40,41.61 L433.91,41.54 L435.43,41.45 L436.94,41.37 L438.45,41.27 L439.96,41.17 L441.47,41.06 L442.98,40.95 L444.49,40.83 L446.00,40.70 L447.50,40.56 L449.01,40.41 L450.51,40.26 L452.02,40.09 L453.52,39.92 L455.02,39.74 L456.52,39.55 L458.02,39.34 L459.51,39.13 L461.01,38.91 L462.50,38.67 L463.99,38.43 L465.48,38.18 L466.97,37.92 L468.46,37.65 L469.95,37.37 L471.43,37.08 L472.91,36.78 L474.40,36.48 L475.88,36.16 L477.36,35.84 L478.83,35.51 L480.31,35.18 L481.78,34.83 L483.26,34.48 L484.73,34.12 L486.20,33.75 L487.67,33.38 L489.14,33.00 L490.60,32.61 L492.07,32.22 L493.53,31.82 L494.99,31.41 L496.45,31.00 L497.91,30.58 L499.37,30.16 L500.82,29.73 L502.28,29.29 L503.73,28.86 L505.18,28.41 L506.63,27.96 L508.08,27.51 L509.53,27.05 L510.97,26.58 L512.42,26.12 L513.86,25.64 L515.30,25.17 L516.74,24.69 L518.18,24.21 L519.62,23.72 L521.05,23.23 L522.49,22.74 L523.92,22.24 L525.35,21.74 L526.78,21.24 L528.21,20.74 L529.63,20.23 L531.06,19.73 L532.48,19.22 L533.90,18.70 L535.32,18.19 L536.74,17.68 L538.16,17.16 L539.57,16.64 L540.99,16.12 L542.40,15.61 L543.81,15.09 L545.22,14.56 L546.63,14.04 L548.04,13.52 L549.40,12.80" stroke="#00ffff" stroke-width="1.9" fill="none" stroke-linejoin="round" stroke-dasharray="6 2.6 1.6 2.8"/>
<path d="M378.40,56.80 L379.22,55.54 L380.04,54.18 L380.91,52.84 L381.83,51.54 L382.80,50.29 L383.82,49.12 L384.91,48.04 L386.06,47.07 L387.27,46.23 L388.55,45.53 L389.90,44.99 L391.31,44.59 L392.76,44.29 L394.24,44.06 L395.74,43.87 L397.23,43.69 L398.73,43.53 L400.23,43.38 L401.73,43.25 L403.23,43.12 L404.74,43.01 L406.24,42.91 L407.75,42.82 L409.26,42.74 L410.77,42.67 L412.29,42.60 L413.80,42.55 L415.32,42.50 L416.84,42.46 L418.35,42.42 L419.87,42.39 L421.39,42.37 L422.91,42.35 L424.44,42.33 L425.96,42.32 L427.48,42.31 L429.01,42.30 L430.53,42.29 L432.06,42.28 L433.58,42.28 L435.11,42.27 L436.63,42.26 L438.16,42.25 L439.68,42.24 L441.21,42.22 L442.73,42.20 L444.26,42.18 L445.78,42.15 L447.31,42.12 L448.83,42.08 L450.36,42.04 L451.88,41.99 L453.40,41.93 L454.92,41.86 L456.44,41.78 L457.96,41.70 L459.48,41.60 L460.99,41.50 L462.51,41.39 L464.03,41.26 L465.54,41.13 L467.05,40.99 L468.56,40.85 L470.07,40.69 L471.58,40.52 L473.09,40.35 L474.60,40.17 L476.11,39.98 L477.61,39.78 L479.11,39.57 L480.62,39.36 L482.12,39.13 L483.62,38.90 L485.12,38.67 L486.62,38.42 L488.11,38.17 L489.61,37.90 L491.10,37.63 L492.59,37.36 L494.08,37.07 L495.58,36.78 L497.06,36.48 L498.55,36.18 L500.04,35.87 L501.52,35.55 L503.01,35.22 L504.49,34.89 L505.97,34.54 L507.45,34.20 L508.92,33.84 L510.40,33.48 L511.88,33.12 L513.35,32.74 L514.82,32.37 L516.29,31.98 L517.76,31.59 L519.23,31.19 L520.69,30.79 L522.16,30.38 L523.62,29.96 L525.08,29.54 L526.54,29.11 L528.00,28.68 L529.45,28.24 L530.91,27.80 L532.36,27.35 L533.81,26.89 L535.26,26.44 L536.71,25.97 L538.16,25.50 L539.60,25.03 L541.04,24.55 L542.49,24.06 L543.92,23.57 L545.36,23.08 L546.80,22.58 L548.23,22.08 L549.66,21.57 L551.10,21.06 L552.52,20.54 L553.95,20.02 L555.38,19.50 L556.80,18.97 L558.22,18.43 L559.64,17.90 L561.06,17.36 L562.47,16.81 L563.89,16.26 L565.30,15.71 L566.71,15.16 L568.12,14.60 L569.52,14.04 L570.93,13.47 L572.30,12.80" stroke="#0000ff" stroke-width="1.9" fill="none" stroke-linejoin="round" stroke-dasharray="6 2.6 1.6 2.8"/>
<path d="M378.40,61.60 L379.27,60.35 L380.18,59.14 L381.14,57.97 L382.14,56.83 L383.19,55.73 L384.27,54.66 L385.39,53.63 L386.54,52.63 L387.72,51.67 L388.94,50.75 L390.19,49.86 L391.46,49.01 L392.75,48.20 L394.07,47.43 L395.42,46.71 L396.78,46.05 L398.17,45.46 L399.58,44.94 L401.01,44.50 L402.47,44.13 L403.94,43.84 L405.43,43.60 L406.93,43.43 L408.44,43.30 L409.97,43.22 L411.50,43.17 L413.04,43.15 L414.58,43.16 L416.13,43.18 L417.68,43.21 L419.22,43.24 L420.77,43.27 L422.31,43.29 L423.84,43.31 L425.37,43.31 L426.90,43.31 L428.43,43.31 L429.95,43.30 L431.47,43.28 L432.99,43.25 L434.51,43.22 L436.02,43.18 L437.53,43.14 L439.04,43.10 L440.55,43.04 L442.06,42.99 L443.56,42.92 L445.07,42.86 L446.58,42.79 L448.08,42.71 L449.58,42.63 L451.09,42.55 L452.59,42.47 L454.10,42.38 L455.60,42.29 L457.11,42.19 L458.62,42.09 L460.13,41.99 L461.64,41.89 L463.15,41.78 L464.66,41.67 L466.17,41.56 L467.68,41.44 L469.19,41.32 L470.70,41.19 L472.21,41.06 L473.73,40.93 L475.24,40.79 L476.75,40.65 L478.26,40.51 L479.78,40.36 L481.29,40.20 L482.80,40.04 L484.31,39.88 L485.82,39.71 L487.33,39.54 L488.84,39.36 L490.35,39.17 L491.86,38.98 L493.37,38.79 L494.88,38.59 L496.39,38.38 L497.89,38.17 L499.40,37.95 L500.90,37.72 L502.40,37.49 L503.91,37.26 L505.41,37.01 L506.90,36.76 L508.40,36.51 L509.90,36.24 L511.39,35.97 L512.89,35.70 L514.38,35.41 L515.87,35.12 L517.35,34.82 L518.84,34.52 L520.32,34.20 L521.81,33.88 L523.29,33.55 L524.76,33.22 L526.24,32.87 L527.71,32.52 L529.18,32.16 L530.65,31.79 L532.12,31.41 L533.58,31.03 L535.04,30.63 L536.50,30.23 L537.96,29.82 L539.41,29.40 L540.86,28.97 L542.31,28.54 L543.76,28.09 L545.20,27.64 L546.64,27.19 L548.08,26.73 L549.52,26.26 L550.96,25.79 L552.40,25.31 L553.83,24.83 L555.26,24.35 L556.70,23.86 L558.13,23.37 L559.56,22.88 L561.00,22.38 L562.43,21.89 L563.86,21.39 L565.29,20.90 L566.72,20.40 L568.16,19.90 L569.59,19.41 L571.02,18.91 L572.46,18.42 L573.89,17.92 L575.33,17.44 L576.77,16.95 L578.21,16.47 L579.65,15.99 L581.09,15.51 L582.54,15.04 L583.98,14.58 L585.43,14.12 L586.88,13.66 L588.34,13.22 L589.80,12.80" stroke="#00ff00" stroke-width="1.9" fill="none" stroke-linejoin="round" stroke-dasharray="6 2.6 1.6 2.8"/>
<path d="M378.40,64.00 L379.15,62.39 L380.08,61.08 L381.18,60.03 L382.40,59.20 L383.73,58.53 L385.13,57.96 L386.56,57.45 L388.00,56.94 L389.43,56.39 L390.79,55.72 L392.09,54.93 L393.32,54.01 L394.50,53.02 L395.65,51.97 L396.78,50.90 L397.91,49.84 L399.04,48.81 L400.20,47.85 L401.40,46.98 L402.65,46.24 L403.95,45.60 L405.29,45.06 L406.67,44.63 L408.09,44.27 L409.54,44.00 L411.01,43.79 L412.51,43.65 L414.04,43.56 L415.58,43.51 L417.14,43.50 L418.70,43.52 L420.27,43.56 L421.85,43.61 L423.43,43.67 L425.00,43.72 L426.56,43.76 L428.12,43.78 L429.67,43.80 L431.21,43.80 L432.75,43.79 L434.28,43.78 L435.81,43.75 L437.33,43.72 L438.84,43.67 L440.36,43.62 L441.87,43.56 L443.38,43.50 L444.88,43.43 L446.38,43.35 L447.88,43.27 L449.38,43.19 L450.88,43.10 L452.38,43.01 L453.88,42.92 L455.38,42.83 L456.88,42.73 L458.39,42.64 L459.89,42.54 L461.39,42.45 L462.90,42.35 L464.41,42.25 L465.91,42.15 L467.42,42.05 L468.93,41.95 L470.44,41.84 L471.95,41.73 L473.47,41.63 L474.98,41.51 L476.49,41.40 L478.00,41.29 L479.52,41.17 L481.03,41.05 L482.55,40.93 L484.06,40.80 L485.58,40.68 L487.09,40.55 L488.61,40.41 L490.12,40.28 L491.64,40.14 L493.15,39.99 L494.67,39.84 L496.18,39.69 L497.70,39.54 L499.21,39.38 L500.73,39.22 L502.24,39.05 L503.75,38.88 L505.27,38.71 L506.78,38.53 L508.29,38.35 L509.80,38.16 L511.31,37.97 L512.82,37.77 L514.33,37.57 L515.83,37.36 L517.34,37.14 L518.85,36.93 L520.35,36.70 L521.85,36.47 L523.36,36.24 L524.86,36.00 L526.36,35.75 L527.85,35.50 L529.35,35.24 L530.84,34.97 L532.34,34.70 L533.83,34.42 L535.32,34.14 L536.81,33.85 L538.29,33.55 L539.78,33.24 L541.26,32.93 L542.74,32.61 L544.22,32.29 L545.70,31.96 L547.18,31.62 L548.65,31.27 L550.12,30.92 L551.59,30.56 L553.06,30.19 L554.53,29.81 L555.99,29.43 L557.45,29.04 L558.91,28.65 L560.37,28.24 L561.83,27.83 L563.28,27.41 L564.74,26.99 L566.19,26.56 L567.64,26.12 L569.08,25.67 L570.53,25.22 L571.97,24.75 L573.41,24.28 L574.85,23.81 L576.29,23.32 L577.72,22.83 L579.15,22.33 L580.58,21.83 L582.01,21.31 L583.44,20.79 L584.86,20.26 L586.29,19.73 L587.71,19.18 L589.12,18.63 L590.54,18.07 L591.95,17.50 L593.36,16.93 L594.77,16.34 L596.18,15.75 L597.58,15.15 L598.99,14.55 L600.39,13.93 L601.78,13.31 L603.20,12.80" stroke="#ff0000" stroke-width="1.9" fill="none" stroke-linejoin="round" stroke-dasharray="6 2.6 1.6 2.8"/>
<path d="M378.40,63.00 L379.68,62.30 L380.93,61.52 L382.18,60.70 L383.41,59.84 L384.65,58.95 L385.87,58.03 L387.10,57.10 L388.33,56.15 L389.56,55.21 L390.80,54.26 L392.04,53.33 L393.28,52.41 L394.54,51.52 L395.81,50.65 L397.09,49.83 L398.39,49.04 L399.70,48.31 L401.04,47.64 L402.39,47.02 L403.77,46.48 L405.17,46.01 L406.59,45.61 L408.02,45.27 L409.48,44.98 L410.95,44.74 L412.44,44.55 L413.94,44.40 L415.44,44.29 L416.96,44.20 L418.49,44.14 L420.02,44.10 L421.55,44.07 L423.09,44.06 L424.62,44.05 L426.16,44.04 L427.69,44.02 L429.22,44.01 L430.75,43.99 L432.28,43.98 L433.81,43.96 L435.34,43.94 L436.86,43.92 L438.39,43.89 L439.91,43.86 L441.43,43.84 L442.95,43.81 L444.47,43.77 L445.99,43.74 L447.51,43.70 L449.03,43.66 L450.54,43.62 L452.06,43.58 L453.57,43.53 L455.08,43.48 L456.60,43.43 L458.11,43.37 L459.62,43.31 L461.13,43.25 L462.64,43.19 L464.15,43.12 L465.66,43.05 L467.16,42.97 L468.67,42.90 L470.18,42.82 L471.69,42.73 L473.19,42.64 L474.70,42.55 L476.20,42.46 L477.71,42.36 L479.22,42.26 L480.72,42.15 L482.23,42.04 L483.73,41.92 L485.24,41.81 L486.74,41.68 L488.25,41.56 L489.75,41.42 L491.26,41.29 L492.76,41.15 L494.27,41.01 L495.77,40.86 L497.28,40.70 L498.78,40.55 L500.28,40.39 L501.79,40.22 L503.29,40.05 L504.79,39.87 L506.29,39.69 L507.79,39.51 L509.29,39.32 L510.79,39.13 L512.29,38.93 L513.79,38.72 L515.29,38.51 L516.79,38.30 L518.29,38.08 L519.78,37.86 L521.28,37.63 L522.77,37.40 L524.27,37.16 L525.76,36.91 L527.25,36.66 L528.74,36.41 L530.23,36.15 L531.72,35.89 L533.21,35.62 L534.70,35.34 L536.18,35.06 L537.67,34.77 L539.15,34.48 L540.64,34.18 L542.12,33.88 L543.60,33.57 L545.08,33.26 L546.56,32.94 L548.03,32.61 L549.51,32.28 L550.98,31.95 L552.46,31.60 L553.93,31.25 L555.40,30.90 L556.87,30.54 L558.34,30.17 L559.80,29.80 L561.27,29.42 L562.73,29.04 L564.19,28.64 L565.65,28.25 L567.11,27.84 L568.56,27.43 L570.02,27.02 L571.47,26.60 L572.92,26.17 L574.37,25.73 L575.82,25.29 L577.26,24.84 L578.71,24.39 L580.15,23.93 L581.59,23.46 L583.02,22.98 L584.46,22.50 L585.89,22.02 L587.32,21.52 L588.75,21.02 L590.18,20.51 L591.61,20.00 L593.03,19.47 L594.45,18.95 L595.87,18.41 L597.28,17.87 L598.70,17.32 L600.11,16.76 L601.52,16.20 L602.93,15.62 L604.33,15.05 L605.73,14.46 L607.20,14.10" stroke="#000000" stroke-width="1.9" fill="none" stroke-linejoin="round" stroke-dasharray="6 2.6 1.6 2.8"/>
<path d="M378.40,47.20 L378.36,48.87 L378.53,50.49 L378.83,52.02 L379.25,53.48 L379.79,54.86 L380.44,56.17 L381.19,57.42 L382.03,58.60 L382.95,59.72 L383.95,60.79 L385.01,61.82 L386.12,62.79 L387.29,63.73 L388.49,64.63 L389.73,65.50 L390.99,66.34 L392.27,67.16 L393.56,67.95 L394.87,68.72 L396.19,69.47 L397.53,70.19 L398.88,70.90 L400.24,71.58 L401.61,72.24 L403.00,72.89 L404.39,73.52 L405.79,74.13 L407.20,74.73 L408.61,75.31 L410.03,75.87 L411.46,76.42 L412.89,76.96 L414.32,77.48 L415.76,77.99 L417.19,78.49 L418.63,78.98 L420.07,79.46 L421.51,79.93 L422.95,80.39 L424.39,80.85 L425.84,81.29 L427.28,81.72 L428.73,82.15 L430.17,82.56 L431.62,82.97 L433.07,83.37 L434.52,83.77 L435.97,84.16 L437.42,84.54 L438.88,84.91 L440.33,85.28 L441.78,85.65 L443.24,86.01 L444.70,86.36 L446.16,86.71 L447.62,87.06 L449.08,87.40 L450.54,87.74 L452.00,88.08 L453.47,88.41 L454.93,88.74 L456.40,89.07 L457.86,89.40 L459.33,89.73 L460.80,90.05 L462.27,90.38 L463.74,90.70 L465.21,91.03 L466.69,91.35 L468.16,91.68 L469.64,92.00 L471.11,92.33 L472.59,92.66 L474.07,92.99 L475.55,93.33 L477.03,93.66 L478.51,94.00 L479.99,94.35 L481.48,94.69 L482.96,95.04 L484.45,95.40 L485.93,95.76 L487.42,96.13 L488.90,96.51 L490.38,96.90 L491.86,97.30 L493.33,97.71 L494.79,98.14 L496.25,98.58 L497.70,99.04 L499.14,99.52 L500.57,100.03 L501.99,100.55 L503.40,101.10 L504.79,101.67 L506.18,102.27 L507.54,102.89 L508.89,103.55 L510.23,104.23 L511.55,104.95 L512.84,105.70 L514.12,106.49 L515.38,107.31 L516.62,108.17 L517.83,109.06 L519.02,109.99 L520.19,110.95 L521.32,111.94 L522.44,112.96 L523.52,114.01 L524.57,115.09 L525.59,116.20 L526.58,117.34 L527.54,118.51 L528.47,119.70 L529.35,120.92 L530.21,122.17 L531.02,123.44 L531.80,124.73 L532.53,126.05 L533.24,127.38 L533.91,128.74 L534.54,130.11 L535.15,131.50 L535.74,132.90 L536.29,134.32 L536.83,135.75 L537.34,137.18 L537.84,138.63 L538.32,140.08 L538.79,141.53 L539.25,142.99 L539.70,144.45 L540.14,145.90 L540.57,147.36 L541.01,148.81 L541.43,150.26 L541.85,151.71 L542.26,153.17 L542.66,154.62 L543.05,156.07 L543.43,157.53 L543.79,158.98 L544.15,160.44 L544.49,161.90 L544.82,163.37 L545.13,164.84 L545.43,166.32 L545.71,167.80 L545.97,169.28 L546.21,170.77 L546.43,172.27 L546.64,173.78 L546.80,175.30" stroke="#00ffff" stroke-width="1.9" fill="none" stroke-linejoin="round"/>
<path d="M378.40,35.20 L379.26,36.49 L380.13,37.83 L381.07,39.08 L382.07,40.24 L383.12,41.32 L384.23,42.32 L385.38,43.25 L386.58,44.11 L387.81,44.92 L389.08,45.68 L390.38,46.38 L391.71,47.05 L393.06,47.69 L394.43,48.29 L395.82,48.88 L397.22,49.44 L398.63,50.00 L400.04,50.55 L401.45,51.11 L402.86,51.67 L404.27,52.22 L405.68,52.78 L407.10,53.34 L408.51,53.90 L409.92,54.46 L411.34,55.01 L412.75,55.56 L414.17,56.11 L415.59,56.65 L417.01,57.19 L418.43,57.73 L419.85,58.26 L421.27,58.78 L422.70,59.30 L424.12,59.81 L425.55,60.31 L426.98,60.80 L428.42,61.28 L429.85,61.75 L431.29,62.21 L432.73,62.66 L434.17,63.10 L435.62,63.52 L437.07,63.93 L438.52,64.33 L439.98,64.71 L441.43,65.09 L442.89,65.45 L444.36,65.80 L445.82,66.14 L447.29,66.47 L448.76,66.79 L450.23,67.10 L451.70,67.40 L453.18,67.69 L454.66,67.98 L456.13,68.26 L457.62,68.53 L459.10,68.80 L460.58,69.05 L462.07,69.31 L463.55,69.56 L465.04,69.80 L466.53,70.04 L468.02,70.28 L469.50,70.52 L471.00,70.75 L472.49,70.98 L473.98,71.21 L475.47,71.44 L476.96,71.66 L478.45,71.89 L479.95,72.12 L481.44,72.35 L482.93,72.58 L484.42,72.81 L485.91,73.05 L487.40,73.28 L488.90,73.53 L490.39,73.77 L491.87,74.02 L493.36,74.27 L494.85,74.53 L496.34,74.80 L497.82,75.07 L499.31,75.35 L500.79,75.64 L502.27,75.93 L503.75,76.23 L505.23,76.54 L506.70,76.86 L508.18,77.19 L509.65,77.53 L511.12,77.88 L512.59,78.25 L514.06,78.62 L515.52,79.00 L516.98,79.40 L518.44,79.81 L519.90,80.24 L521.35,80.68 L522.80,81.13 L524.25,81.60 L525.69,82.09 L527.13,82.59 L528.56,83.11 L529.98,83.65 L531.40,84.21 L532.80,84.79 L534.19,85.39 L535.57,86.01 L536.93,86.66 L538.27,87.33 L539.60,88.03 L540.91,88.76 L542.19,89.52 L543.44,90.31 L544.66,91.16 L545.82,92.05 L546.94,93.01 L548.00,94.04 L549.00,95.12 L549.96,96.25 L550.88,97.42 L551.76,98.64 L552.61,99.88 L553.43,101.15 L554.21,102.45 L554.97,103.77 L555.70,105.10 L556.39,106.46 L557.06,107.83 L557.70,109.22 L558.30,110.62 L558.88,112.04 L559.42,113.46 L559.93,114.89 L560.42,116.32 L560.87,117.76 L561.31,119.21 L561.71,120.66 L562.10,122.12 L562.46,123.58 L562.80,125.05 L563.13,126.52 L563.44,127.99 L563.73,129.47 L564.01,130.95 L564.28,132.43 L564.54,133.92 L564.79,135.41 L565.03,136.90 L565.27,138.39 L565.50,139.88 L565.74,141.37 L565.97,142.87 L566.20,144.36 L566.44,145.85 L566.67,147.34 L566.91,148.83 L567.15,150.32 L567.39,151.82 L567.62,153.31 L567.85,154.80 L568.08,156.29 L568.30,157.78 L568.52,159.28 L568.73,160.77 L568.93,162.27 L569.12,163.76 L569.31,165.26 L569.48,166.76 L569.64,168.26 L569.79,169.76 L569.92,171.27 L570.04,172.77 L570.14,174.28 L570.23,175.79 L570.30,177.30" stroke="#0000ff" stroke-width="1.9" fill="none" stroke-linejoin="round"/>
<path d="M378.70,24.20 L379.95,25.09 L381.22,25.93 L382.50,26.75 L383.79,27.53 L385.10,28.29 L386.42,29.02 L387.75,29.73 L389.09,30.41 L390.45,31.07 L391.81,31.71 L393.19,32.33 L394.57,32.92 L395.97,33.50 L397.37,34.06 L398.78,34.61 L400.20,35.13 L401.62,35.64 L403.05,36.14 L404.49,36.62 L405.93,37.09 L407.37,37.55 L408.82,38.00 L410.28,38.44 L411.74,38.88 L413.20,39.30 L414.66,39.72 L416.12,40.13 L417.59,40.54 L419.05,40.94 L420.52,41.34 L421.98,41.74 L423.45,42.14 L424.91,42.54 L426.37,42.94 L427.83,43.34 L429.29,43.75 L430.74,44.15 L432.20,44.55 L433.65,44.96 L435.10,45.36 L436.55,45.76 L438.00,46.16 L439.45,46.56 L440.90,46.95 L442.34,47.35 L443.79,47.74 L445.24,48.13 L446.69,48.52 L448.14,48.90 L449.58,49.28 L451.03,49.65 L452.48,50.02 L453.93,50.39 L455.38,50.75 L456.84,51.10 L458.29,51.45 L459.74,51.79 L461.20,52.13 L462.66,52.45 L464.12,52.77 L465.58,53.09 L467.05,53.39 L468.52,53.69 L469.99,53.98 L471.46,54.26 L472.94,54.53 L474.42,54.79 L475.90,55.04 L477.38,55.28 L478.87,55.51 L480.37,55.73 L481.86,55.94 L483.37,56.13 L484.87,56.32 L486.38,56.49 L487.89,56.65 L489.41,56.81 L490.93,56.96 L492.45,57.10 L493.97,57.23 L495.49,57.36 L497.02,57.48 L498.55,57.61 L500.08,57.72 L501.61,57.84 L503.14,57.95 L504.67,58.07 L506.20,58.19 L507.73,58.30 L509.26,58.42 L510.79,58.55 L512.32,58.67 L513.85,58.80 L515.37,58.94 L516.89,59.09 L518.41,59.24 L519.93,59.40 L521.45,59.57 L522.96,59.75 L524.47,59.94 L525.97,60.15 L527.47,60.36 L528.97,60.59 L530.46,60.84 L531.95,61.10 L533.43,61.37 L534.91,61.67 L536.38,61.98 L537.84,62.31 L539.30,62.66 L540.75,63.03 L542.20,63.42 L543.64,63.84 L545.07,64.27 L546.49,64.74 L547.91,65.22 L549.31,65.73 L550.71,66.27 L552.10,66.84 L553.48,67.43 L554.85,68.06 L556.21,68.71 L557.56,69.40 L558.90,70.11 L560.22,70.86 L561.53,71.64 L562.82,72.45 L564.09,73.29 L565.33,74.16 L566.55,75.06 L567.74,75.99 L568.90,76.95 L570.03,77.95 L571.13,78.97 L572.18,80.03 L573.20,81.11 L574.18,82.23 L575.12,83.38 L576.01,84.56 L576.85,85.77 L577.65,87.01 L578.39,88.28 L579.08,89.58 L579.71,90.91 L580.30,92.27 L580.84,93.65 L581.35,95.06 L581.81,96.48 L582.23,97.92 L582.62,99.38 L582.98,100.85 L583.31,102.33 L583.61,103.83 L583.89,105.32 L584.15,106.83 L584.39,108.34 L584.62,109.84 L584.83,111.35 L585.03,112.87 L585.21,114.38 L585.39,115.89 L585.55,117.40 L585.69,118.92 L585.83,120.43 L585.96,121.95 L586.08,123.47 L586.19,124.98 L586.30,126.50 L586.40,128.02 L586.49,129.54 L586.57,131.06 L586.65,132.57 L586.73,134.09 L586.81,135.61 L586.88,137.12 L586.95,138.64 L587.02,140.16 L587.08,141.67 L587.15,143.19 L587.22,144.70 L587.30,146.21 L587.37,147.72 L587.45,149.23 L587.53,150.74 L587.62,152.25 L587.71,153.76 L587.81,155.26 L587.91,156.76 L588.02,158.27 L588.14,159.76 L588.27,161.26 L588.41,162.76 L588.56,164.25 L588.73,165.74 L588.90,167.23 L589.08,168.72 L589.28,170.20 L589.50,171.68 L589.73,173.16 L589.80,174.70" stroke="#00ff00" stroke-width="1.9" fill="none" stroke-linejoin="round"/>
<path d="M378.70,20.20 L379.95,21.13 L381.23,22.01 L382.51,22.86 L383.80,23.68 L385.11,24.46 L386.43,25.22 L387.76,25.94 L389.10,26.64 L390.44,27.31 L391.80,27.95 L393.17,28.57 L394.55,29.16 L395.93,29.73 L397.32,30.28 L398.72,30.81 L400.13,31.32 L401.54,31.81 L402.97,32.29 L404.39,32.74 L405.82,33.19 L407.26,33.62 L408.70,34.04 L410.15,34.45 L411.60,34.84 L413.05,35.23 L414.51,35.61 L415.97,35.99 L417.43,36.36 L418.90,36.72 L420.36,37.08 L421.83,37.44 L423.30,37.80 L424.77,38.17 L426.23,38.53 L427.70,38.89 L429.17,39.26 L430.64,39.62 L432.11,39.99 L433.58,40.36 L435.05,40.72 L436.52,41.09 L437.99,41.45 L439.46,41.82 L440.93,42.18 L442.40,42.54 L443.87,42.89 L445.34,43.25 L446.81,43.60 L448.29,43.94 L449.76,44.28 L451.24,44.62 L452.71,44.95 L454.19,45.28 L455.66,45.60 L457.14,45.92 L458.62,46.22 L460.10,46.52 L461.58,46.82 L463.06,47.10 L464.54,47.38 L466.02,47.65 L467.51,47.91 L468.99,48.16 L470.48,48.41 L471.96,48.64 L473.45,48.86 L474.94,49.07 L476.43,49.27 L477.93,49.45 L479.42,49.63 L480.92,49.79 L482.41,49.94 L483.91,50.08 L485.41,50.21 L486.91,50.33 L488.41,50.44 L489.91,50.54 L491.42,50.63 L492.92,50.72 L494.43,50.80 L495.93,50.87 L497.44,50.95 L498.94,51.01 L500.45,51.08 L501.96,51.14 L503.47,51.20 L504.98,51.26 L506.49,51.31 L507.99,51.37 L509.50,51.43 L511.01,51.50 L512.52,51.56 L514.03,51.63 L515.54,51.71 L517.04,51.78 L518.55,51.87 L520.06,51.96 L521.56,52.06 L523.07,52.17 L524.57,52.28 L526.08,52.41 L527.58,52.54 L529.08,52.69 L530.58,52.85 L532.08,53.02 L533.58,53.21 L535.08,53.41 L536.58,53.62 L538.07,53.85 L539.56,54.10 L541.05,54.36 L542.54,54.64 L544.02,54.93 L545.50,55.25 L546.98,55.58 L548.45,55.93 L549.92,56.30 L551.38,56.69 L552.83,57.10 L554.28,57.53 L555.72,57.98 L557.15,58.46 L558.58,58.95 L560.00,59.47 L561.41,60.01 L562.81,60.57 L564.20,61.16 L565.58,61.77 L566.95,62.40 L568.30,63.06 L569.65,63.75 L570.99,64.46 L572.31,65.20 L573.62,65.96 L574.92,66.75 L576.20,67.57 L577.47,68.42 L578.73,69.29 L579.96,70.20 L581.17,71.13 L582.35,72.10 L583.50,73.09 L584.62,74.11 L585.70,75.17 L586.73,76.25 L587.72,77.37 L588.66,78.52 L589.55,79.70 L590.38,80.92 L591.15,82.16 L591.86,83.44 L592.50,84.76 L593.07,86.10 L593.58,87.48 L594.03,88.88 L594.43,90.31 L594.78,91.76 L595.09,93.23 L595.36,94.72 L595.59,96.22 L595.79,97.74 L595.97,99.26 L596.13,100.79 L596.27,102.32 L596.41,103.86 L596.53,105.39 L596.66,106.92 L596.78,108.45 L596.89,109.97 L597.01,111.49 L597.12,113.01 L597.23,114.53 L597.34,116.04 L597.45,117.55 L597.55,119.06 L597.65,120.57 L597.75,122.07 L597.84,123.58 L597.94,125.08 L598.03,126.58 L598.12,128.08 L598.20,129.58 L598.29,131.08 L598.37,132.57 L598.45,134.07 L598.53,135.56 L598.61,137.06 L598.68,138.55 L598.75,140.05 L598.82,141.54 L598.89,143.04 L598.96,144.53 L599.02,146.03 L599.08,147.52 L599.14,149.02 L599.20,150.52 L599.26,152.02 L599.32,153.52 L599.37,155.02 L599.42,156.52 L599.47,158.02 L599.52,159.53 L599.57,161.04 L599.61,162.54 L599.66,164.06 L599.70,165.57 L599.74,167.08 L599.78,168.60 L599.82,170.12 L599.86,171.65 L599.89,173.17 L599.90,174.70" stroke="#ff0000" stroke-width="1.9" fill="none" stroke-linejoin="round"/>
<path d="M378.70,18.80 L380.01,19.58 L381.35,20.28 L382.70,20.96 L384.06,21.64 L385.42,22.30 L386.78,22.95 L388.15,23.59 L389.53,24.22 L390.90,24.83 L392.28,25.43 L393.67,26.02 L395.06,26.61 L396.46,27.17 L397.85,27.73 L399.26,28.28 L400.66,28.82 L402.07,29.35 L403.48,29.86 L404.90,30.37 L406.32,30.87 L407.74,31.35 L409.17,31.83 L410.60,32.30 L412.03,32.76 L413.47,33.21 L414.91,33.65 L416.35,34.08 L417.80,34.50 L419.24,34.92 L420.69,35.32 L422.15,35.72 L423.60,36.11 L425.06,36.49 L426.52,36.87 L427.98,37.23 L429.45,37.59 L430.91,37.94 L432.38,38.29 L433.86,38.63 L435.33,38.96 L436.80,39.28 L438.28,39.60 L439.76,39.91 L441.24,40.22 L442.72,40.51 L444.20,40.81 L445.69,41.10 L447.17,41.38 L448.66,41.66 L450.15,41.93 L451.64,42.19 L453.13,42.45 L454.62,42.71 L456.11,42.96 L457.60,43.21 L459.10,43.46 L460.59,43.69 L462.08,43.93 L463.58,44.16 L465.07,44.39 L466.57,44.61 L468.07,44.83 L469.56,45.05 L471.06,45.27 L472.55,45.48 L474.05,45.69 L475.55,45.89 L477.04,46.10 L478.54,46.30 L480.03,46.50 L481.52,46.70 L483.02,46.89 L484.51,47.09 L486.01,47.28 L487.50,47.47 L488.99,47.66 L490.48,47.85 L491.98,48.03 L493.47,48.21 L494.96,48.40 L496.45,48.58 L497.95,48.76 L499.44,48.93 L500.93,49.11 L502.42,49.28 L503.92,49.45 L505.41,49.62 L506.91,49.79 L508.40,49.96 L509.90,50.13 L511.39,50.29 L512.89,50.46 L514.39,50.62 L515.88,50.78 L517.38,50.94 L518.88,51.10 L520.38,51.26 L521.89,51.42 L523.39,51.58 L524.89,51.73 L526.40,51.88 L527.90,52.04 L529.41,52.19 L530.92,52.34 L532.43,52.49 L533.94,52.64 L535.45,52.79 L536.97,52.94 L538.48,53.09 L539.99,53.24 L541.51,53.41 L543.01,53.59 L544.51,53.78 L546.01,54.00 L547.49,54.24 L548.97,54.51 L550.43,54.81 L551.88,55.15 L553.31,55.52 L554.73,55.95 L556.13,56.42 L557.51,56.93 L558.87,57.50 L560.22,58.11 L561.56,58.75 L562.88,59.43 L564.20,60.13 L565.52,60.85 L566.84,61.59 L568.15,62.35 L569.47,63.10 L570.80,63.87 L572.14,64.62 L573.49,65.37 L574.85,66.11 L576.23,66.82 L577.63,67.52 L579.04,68.20 L580.46,68.87 L581.88,69.54 L583.28,70.22 L584.66,70.92 L586.01,71.64 L587.33,72.40 L588.60,73.20 L589.82,74.06 L590.98,74.97 L592.07,75.94 L593.09,76.97 L594.04,78.06 L594.90,79.19 L595.68,80.38 L596.37,81.62 L596.97,82.91 L597.50,84.24 L597.94,85.61 L598.32,87.01 L598.63,88.45 L598.89,89.92 L599.10,91.41 L599.26,92.93 L599.38,94.46 L599.47,96.01 L599.53,97.57 L599.57,99.14 L599.60,100.72 L599.62,102.29 L599.64,103.87 L599.66,105.44 L599.69,107.00 L599.73,108.55 L599.77,110.09 L599.82,111.63 L599.88,113.16 L599.94,114.69 L600.01,116.21 L600.09,117.72 L600.17,119.23 L600.25,120.73 L600.34,122.23 L600.43,123.72 L600.52,125.21 L600.62,126.70 L600.72,128.18 L600.82,129.67 L600.93,131.14 L601.03,132.62 L601.14,134.10 L601.24,135.57 L601.34,137.05 L601.45,138.52 L601.55,139.99 L601.65,141.47 L601.75,142.94 L601.85,144.42 L601.94,145.89 L602.03,147.37 L602.12,148.85 L602.20,150.34 L602.28,151.82 L602.35,153.31 L602.42,154.80 L602.48,156.30 L602.53,157.80 L602.58,159.31 L602.62,160.82 L602.66,162.34 L602.68,163.86 L602.70,165.39 L602.71,166.93 L602.71,168.47 L602.70,170.02 L602.68,171.58 L602.65,173.14 L602.60,174.70" stroke="#000000" stroke-width="1.9" fill="none" stroke-linejoin="round"/>
<path d="M378.3,1.8 H627.6 Q629.1,1.8 629.1,3.3 V190.35 H378.3 Z" fill="none" stroke="#1e1e1e" stroke-width="1.3"/>
<path d="M374.0,190.35H378.3 M375.7,179.26H378.3 M374.0,168.17H378.3 M375.7,157.08H378.3 M374.0,145.99H378.3 M375.7,134.89H378.3 M374.0,123.80H378.3 M375.7,112.71H378.3 M374.0,101.62H378.3 M375.7,90.53H378.3 M374.0,79.44H378.3 M375.7,68.35H378.3 M374.0,57.26H378.3 M375.7,46.16H378.3 M374.0,35.07H378.3 M375.7,23.98H378.3 M374.0,12.89H378.3 M375.7,1.80H378.3 M378.30,190.35V194.35 M393.98,190.35V192.54999999999998 M409.65,190.35V194.35 M425.33,190.35V192.54999999999998 M441.00,190.35V194.35 M456.68,190.35V192.54999999999998 M472.35,190.35V194.35 M488.03,190.35V192.54999999999998 M503.70,190.35V194.35 M519.38,190.35V192.54999999999998 M535.05,190.35V194.35 M550.73,190.35V192.54999999999998 M566.40,190.35V194.35 M582.08,190.35V192.54999999999998 M597.75,190.35V194.35 M613.43,190.35V192.54999999999998 M629.10,190.35V194.35" stroke="#1e1e1e" stroke-width="1.3" fill="none"/>
<text x="370.40" y="193.05" class="tk" text-anchor="end">2.6</text>
<text x="370.40" y="170.87" class="tk" text-anchor="end">2.8</text>
<text x="370.40" y="148.69" class="tk" text-anchor="end">3.0</text>
<text x="370.40" y="126.50" class="tk" text-anchor="end">3.2</text>
<text x="370.40" y="104.32" class="tk" text-anchor="end">3.4</text>
<text x="370.40" y="82.14" class="tk" text-anchor="end">3.6</text>
<text x="370.40" y="59.96" class="tk" text-anchor="end">3.8</text>
<text x="370.40" y="37.77" class="tk" text-anchor="end">4.0</text>
<text x="370.40" y="15.59" class="tk" text-anchor="end">4.2</text>
<text x="377.50" y="203.95" class="tk" text-anchor="middle">0</text>
<text x="408.85" y="203.95" class="tk" text-anchor="middle">20</text>
<text x="440.20" y="203.95" class="tk" text-anchor="middle">40</text>
<text x="471.55" y="203.95" class="tk" text-anchor="middle">60</text>
<text x="502.90" y="203.95" class="tk" text-anchor="middle">80</text>
<text x="534.25" y="203.95" class="tk" text-anchor="middle">100</text>
<text x="565.60" y="203.95" class="tk" text-anchor="middle">120</text>
<text x="596.95" y="203.95" class="tk" text-anchor="middle">140</text>
<text x="628.30" y="203.95" class="tk" text-anchor="middle">160</text>
<text transform="translate(503.5,223.0) scale(1.03,1.2)" class="ttl" text-anchor="middle">Capacity/mAh g-1</text>
<text transform="translate(344.8,91.0) rotate(-90)" class="ttl" text-anchor="middle">Voltage/V</text>
<text transform="translate(318.3,24.2) scale(1.13,1)" class="pl">(b)</text>
<rect x="382.5" y="91.1" width="38.70" height="95.70" rx="1.2" fill="#fff" stroke="#222" stroke-width="1.3"/>
<path d="M383.3,95.70H402.2" stroke="#000000" stroke-width="2.2"/>
<text x="403.8" y="98.50" class="lg-sans">0.5c</text>
<path d="M383.3,105.21H402.2" stroke="#000000" stroke-width="2.2" stroke-dasharray="6 2.6 1.6 2.8"/>
<text x="403.8" y="108.01" class="lg-sans">0.5c</text>
<path d="M383.3,114.72H402.2" stroke="#ff0000" stroke-width="2.2"/>
<text x="403.8" y="117.52" class="lg-sans">1c</text>
<path d="M383.3,124.23H402.2" stroke="#ff0000" stroke-width="2.2" stroke-dasharray="6 2.6 1.6 2.8"/>
<text x="403.8" y="127.03" class="lg-sans">1c</text>
<path d="M383.3,133.74H402.2" stroke="#00ff00" stroke-width="2.2"/>
<text x="403.8" y="136.54" class="lg-sans">2c</text>
<path d="M383.3,143.25H402.2" stroke="#00ff00" stroke-width="2.2" stroke-dasharray="6 2.6 1.6 2.8"/>
<text x="403.8" y="146.05" class="lg-sans">2c</text>
<path d="M383.3,152.76H402.2" stroke="#0000ff" stroke-width="2.2"/>
<text x="403.8" y="155.56" class="lg-sans">5c</text>
<path d="M383.3,162.27H402.2" stroke="#0000ff" stroke-width="2.2" stroke-dasharray="6 2.6 1.6 2.8"/>
<text x="403.8" y="165.07" class="lg-sans">5c</text>
<path d="M383.3,171.78H402.2" stroke="#00ffff" stroke-width="2.2"/>
<text x="403.8" y="174.58" class="lg-sans">8c</text>
<path d="M383.3,181.29H402.2" stroke="#00ffff" stroke-width="2.2" stroke-dasharray="6 2.6 1.6 2.8"/>
<text x="403.8" y="184.09" class="lg-sans">8c</text>
<path d="M60.90,288.40 L62.14,287.37 L63.51,286.77 L64.91,286.27 L66.34,285.86 L67.79,285.53 L69.26,285.27 L70.74,285.06 L72.24,284.89 L73.74,284.75 L75.25,284.63 L76.77,284.52 L78.28,284.41 L79.79,284.31 L81.31,284.21 L82.82,284.12 L84.34,284.03 L85.85,283.94 L87.37,283.86 L88.89,283.77 L90.40,283.69 L91.92,283.61 L93.44,283.53 L94.96,283.45 L96.48,283.37 L98.00,283.29 L99.51,283.20 L101.03,283.12 L102.55,283.03 L104.07,282.94 L105.59,282.85 L107.10,282.75 L108.62,282.65 L110.13,282.55 L111.65,282.44 L113.17,282.32 L114.68,282.20 L116.19,282.07 L117.70,281.93 L119.22,281.79 L120.73,281.64 L122.24,281.48 L123.74,281.31 L125.25,281.13 L126.76,280.95 L128.26,280.75 L129.76,280.54 L131.26,280.32 L132.76,280.09 L134.26,279.85 L135.76,279.59 L137.25,279.33 L138.75,279.06 L140.24,278.77 L141.73,278.48 L143.22,278.17 L144.70,277.86 L146.19,277.53 L147.67,277.20 L149.15,276.86 L150.63,276.50 L152.11,276.14 L153.58,275.77 L155.05,275.39 L156.53,275.00 L158.00,274.60 L159.46,274.20 L160.93,273.78 L162.39,273.36 L163.85,272.93 L165.31,272.49 L166.77,272.05 L168.22,271.60 L169.67,271.14 L171.12,270.67 L172.57,270.19 L174.01,269.71 L175.46,269.22 L176.90,268.73 L178.33,268.23 L179.77,267.72 L181.20,267.21 L182.63,266.69 L184.06,266.16 L185.49,265.63 L186.91,265.10 L188.33,264.55 L189.75,264.01 L191.16,263.46 L192.57,262.90 L193.98,262.34 L195.39,261.77 L196.79,261.20 L198.20,260.63 L199.59,260.05 L200.99,259.47 L202.38,258.88 L203.77,258.29 L205.16,257.70 L206.54,257.10 L207.90,256.40" stroke="#00ffff" stroke-width="1.9" fill="none" stroke-linejoin="round" stroke-dasharray="6 2.6 1.6 2.8"/>
<path d="M60.90,298.00 L61.53,296.30 L62.29,294.71 L63.15,293.27 L64.09,291.99 L65.12,290.86 L66.22,289.87 L67.40,289.00 L68.63,288.25 L69.93,287.61 L71.27,287.08 L72.65,286.64 L74.07,286.28 L75.52,286.00 L77.00,285.78 L78.49,285.61 L79.99,285.49 L81.50,285.39 L83.02,285.31 L84.54,285.24 L86.06,285.17 L87.58,285.10 L89.09,285.03 L90.61,284.96 L92.13,284.90 L93.65,284.84 L95.17,284.77 L96.68,284.71 L98.20,284.66 L99.72,284.60 L101.24,284.54 L102.75,284.48 L104.27,284.42 L105.79,284.36 L107.31,284.30 L108.82,284.24 L110.34,284.18 L111.85,284.12 L113.37,284.05 L114.89,283.99 L116.40,283.92 L117.91,283.85 L119.43,283.77 L120.94,283.69 L122.45,283.61 L123.97,283.53 L125.48,283.44 L126.99,283.35 L128.50,283.25 L130.01,283.15 L131.52,283.04 L133.03,282.93 L134.54,282.82 L136.05,282.69 L137.55,282.56 L139.06,282.43 L140.56,282.29 L142.07,282.14 L143.57,281.99 L145.07,281.83 L146.58,281.66 L148.08,281.48 L149.58,281.29 L151.08,281.10 L152.57,280.90 L154.07,280.69 L155.57,280.47 L157.06,280.24 L158.56,280.00 L160.05,279.76 L161.54,279.50 L163.03,279.23 L164.52,278.96 L166.01,278.67 L167.50,278.38 L168.98,278.07 L170.46,277.76 L171.95,277.44 L173.43,277.11 L174.91,276.77 L176.38,276.42 L177.86,276.07 L179.33,275.70 L180.81,275.33 L182.28,274.95 L183.75,274.56 L185.21,274.16 L186.68,273.76 L188.14,273.35 L189.60,272.93 L191.06,272.50 L192.51,272.07 L193.97,271.62 L195.42,271.17 L196.87,270.72 L198.32,270.26 L199.76,269.79 L201.20,269.31 L202.64,268.83 L204.08,268.34 L205.51,267.84 L206.94,267.34 L208.37,266.83 L209.80,266.31 L211.22,265.79 L212.64,265.26 L214.06,264.73 L215.47,264.19 L216.89,263.65 L218.29,263.10 L219.70,262.54 L221.10,261.98 L222.50,261.42 L223.89,260.85 L225.29,260.27 L226.68,259.69 L228.06,259.10 L229.44,258.51 L230.80,257.80" stroke="#0000ff" stroke-width="1.9" fill="none" stroke-linejoin="round" stroke-dasharray="6 2.6 1.6 2.8"/>
<path d="M60.90,303.80 L62.08,302.97 L63.18,301.90 L64.29,300.82 L65.40,299.75 L66.53,298.68 L67.66,297.63 L68.81,296.59 L69.97,295.57 L71.14,294.57 L72.33,293.61 L73.54,292.69 L74.76,291.80 L76.00,290.95 L77.25,290.15 L78.53,289.39 L79.82,288.68 L81.13,288.03 L82.46,287.42 L83.81,286.88 L85.18,286.40 L86.57,285.98 L87.98,285.62 L89.41,285.32 L90.86,285.09 L92.33,284.90 L93.81,284.77 L95.31,284.67 L96.81,284.62 L98.33,284.60 L99.85,284.62 L101.39,284.65 L102.93,284.71 L104.47,284.79 L106.02,284.88 L107.56,284.97 L109.11,285.07 L110.66,285.17 L112.20,285.26 L113.74,285.35 L115.28,285.44 L116.81,285.51 L118.35,285.59 L119.88,285.65 L121.40,285.71 L122.93,285.75 L124.45,285.79 L125.97,285.82 L127.49,285.84 L129.01,285.85 L130.53,285.84 L132.04,285.83 L133.55,285.80 L135.06,285.75 L136.57,285.69 L138.07,285.62 L139.58,285.53 L141.08,285.43 L142.58,285.31 L144.08,285.17 L145.58,285.03 L147.07,284.87 L148.57,284.70 L150.06,284.52 L151.56,284.33 L153.05,284.14 L154.55,283.94 L156.04,283.73 L157.53,283.53 L159.03,283.31 L160.52,283.10 L162.02,282.89 L163.51,282.67 L165.01,282.45 L166.50,282.22 L168.00,282.00 L169.49,281.77 L170.99,281.53 L172.48,281.30 L173.98,281.06 L175.47,280.82 L176.96,280.57 L178.46,280.32 L179.95,280.07 L181.44,279.81 L182.93,279.55 L184.43,279.29 L185.92,279.02 L187.41,278.75 L188.89,278.47 L190.38,278.19 L191.87,277.90 L193.36,277.61 L194.84,277.31 L196.33,277.01 L197.81,276.71 L199.29,276.40 L200.77,276.08 L202.25,275.76 L203.73,275.43 L205.21,275.10 L206.68,274.76 L208.15,274.42 L209.63,274.07 L211.10,273.71 L212.57,273.35 L214.03,272.98 L215.50,272.61 L216.96,272.23 L218.42,271.84 L219.88,271.44 L221.34,271.04 L222.79,270.63 L224.25,270.22 L225.70,269.80 L227.15,269.37 L228.59,268.93 L230.04,268.49 L231.48,268.03 L232.92,267.57 L234.35,267.11 L235.79,266.63 L237.22,266.15 L238.65,265.66 L240.07,265.16 L241.50,264.65 L242.92,264.13 L244.33,263.61 L245.75,263.07 L247.16,262.53 L248.56,261.98 L249.97,261.42 L251.37,260.85 L252.77,260.27 L254.16,259.68 L255.55,259.09 L256.94,258.48 L258.30,257.80" stroke="#00ff00" stroke-width="1.9" fill="none" stroke-linejoin="round" stroke-dasharray="6 2.6 1.6 2.8"/>
<path d="M60.90,304.50 L61.87,303.44 L62.94,302.40 L64.03,301.35 L65.12,300.28 L66.23,299.21 L67.35,298.14 L68.48,297.08 L69.64,296.04 L70.81,295.02 L71.99,294.03 L73.20,293.08 L74.42,292.17 L75.67,291.30 L76.93,290.49 L78.22,289.75 L79.53,289.07 L80.87,288.46 L82.23,287.92 L83.60,287.44 L85.00,287.03 L86.42,286.67 L87.85,286.37 L89.30,286.12 L90.77,285.91 L92.25,285.75 L93.74,285.62 L95.24,285.54 L96.75,285.48 L98.27,285.45 L99.79,285.45 L101.33,285.47 L102.86,285.51 L104.40,285.56 L105.94,285.62 L107.48,285.69 L109.02,285.76 L110.56,285.83 L112.09,285.90 L113.63,285.97 L115.16,286.03 L116.68,286.09 L118.21,286.15 L119.73,286.20 L121.25,286.24 L122.77,286.28 L124.29,286.32 L125.81,286.35 L127.32,286.37 L128.83,286.38 L130.35,286.39 L131.86,286.39 L133.37,286.38 L134.88,286.37 L136.38,286.34 L137.89,286.30 L139.40,286.26 L140.91,286.20 L142.41,286.14 L143.92,286.06 L145.42,285.98 L146.93,285.88 L148.43,285.78 L149.94,285.66 L151.44,285.54 L152.95,285.41 L154.45,285.27 L155.95,285.12 L157.45,284.97 L158.96,284.81 L160.46,284.63 L161.96,284.45 L163.46,284.27 L164.96,284.07 L166.46,283.87 L167.96,283.67 L169.45,283.45 L170.95,283.23 L172.45,283.00 L173.95,282.77 L175.44,282.53 L176.94,282.29 L178.43,282.04 L179.93,281.78 L181.42,281.52 L182.91,281.26 L184.40,280.99 L185.90,280.72 L187.39,280.44 L188.88,280.15 L190.37,279.87 L191.85,279.58 L193.34,279.28 L194.83,278.99 L196.32,278.69 L197.80,278.38 L199.29,278.08 L200.77,277.77 L202.25,277.46 L203.74,277.14 L205.22,276.82 L206.70,276.50 L208.18,276.18 L209.66,275.85 L211.13,275.52 L212.61,275.18 L214.08,274.84 L215.55,274.49 L217.03,274.14 L218.50,273.79 L219.96,273.42 L221.43,273.06 L222.89,272.68 L224.36,272.30 L225.82,271.92 L227.28,271.53 L228.73,271.13 L230.19,270.72 L231.64,270.31 L233.09,269.89 L234.54,269.46 L235.98,269.03 L237.42,268.59 L238.86,268.14 L240.30,267.68 L241.74,267.21 L243.17,266.73 L244.60,266.24 L246.02,265.75 L247.45,265.24 L248.87,264.73 L250.29,264.21 L251.70,263.67 L253.11,263.13 L254.52,262.57 L255.92,262.00 L257.32,261.43 L258.72,260.84 L260.11,260.24 L261.51,259.63 L262.89,259.00 L264.27,258.37 L265.65,257.72 L267.03,257.06 L268.40,256.40" stroke="#ff0000" stroke-width="1.9" fill="none" stroke-linejoin="round" stroke-dasharray="6 2.6 1.6 2.8"/>
<path d="M60.90,306.00 L62.25,305.40 L63.56,304.70 L64.85,303.96 L66.13,303.17 L67.40,302.34 L68.66,301.48 L69.92,300.59 L71.17,299.69 L72.41,298.77 L73.65,297.84 L74.89,296.90 L76.13,295.97 L77.38,295.05 L78.63,294.14 L79.88,293.24 L81.14,292.38 L82.41,291.54 L83.69,290.74 L84.98,289.97 L86.29,289.26 L87.61,288.60 L88.95,287.99 L90.31,287.45 L91.68,286.98 L93.08,286.58 L94.50,286.24 L95.93,285.96 L97.38,285.74 L98.84,285.57 L100.32,285.44 L101.81,285.36 L103.31,285.31 L104.82,285.30 L106.34,285.32 L107.87,285.36 L109.40,285.43 L110.93,285.51 L112.47,285.60 L114.02,285.70 L115.56,285.81 L117.10,285.91 L118.64,286.01 L120.18,286.10 L121.72,286.18 L123.25,286.24 L124.77,286.30 L126.30,286.34 L127.82,286.37 L129.34,286.39 L130.86,286.41 L132.37,286.41 L133.89,286.40 L135.40,286.39 L136.91,286.37 L138.42,286.35 L139.94,286.31 L141.45,286.27 L142.96,286.23 L144.47,286.18 L145.98,286.13 L147.50,286.06 L149.01,286.00 L150.52,285.92 L152.03,285.84 L153.54,285.76 L155.06,285.67 L156.57,285.57 L158.08,285.47 L159.59,285.36 L161.10,285.25 L162.61,285.13 L164.12,285.01 L165.63,284.87 L167.14,284.74 L168.65,284.60 L170.15,284.45 L171.66,284.29 L173.17,284.13 L174.68,283.97 L176.18,283.79 L177.69,283.62 L179.19,283.43 L180.70,283.24 L182.20,283.05 L183.70,282.85 L185.20,282.64 L186.71,282.43 L188.21,282.21 L189.71,281.98 L191.20,281.75 L192.70,281.52 L194.20,281.28 L195.69,281.03 L197.19,280.77 L198.68,280.51 L200.18,280.25 L201.67,279.98 L203.16,279.70 L204.65,279.42 L206.14,279.13 L207.63,278.83 L209.11,278.53 L210.60,278.23 L212.08,277.91 L213.56,277.59 L215.04,277.27 L216.52,276.94 L218.00,276.60 L219.48,276.26 L220.95,275.91 L222.43,275.56 L223.90,275.20 L225.37,274.83 L226.84,274.46 L228.31,274.08 L229.78,273.70 L231.24,273.31 L232.71,272.91 L234.17,272.51 L235.63,272.10 L237.08,271.69 L238.54,271.27 L240.00,270.85 L241.45,270.41 L242.90,269.98 L244.35,269.53 L245.80,269.08 L247.24,268.63 L248.68,268.17 L250.13,267.70 L251.56,267.23 L253.00,266.75 L254.44,266.26 L255.87,265.77 L257.30,265.28 L258.73,264.77 L260.16,264.26 L261.58,263.75 L263.00,263.23 L264.42,262.70 L265.84,262.17 L267.26,261.63 L268.67,261.08 L270.08,260.53 L271.49,259.97 L272.89,259.41 L274.30,258.84 L275.70,258.27 L277.10,257.69 L278.50,257.10" stroke="#000000" stroke-width="1.9" fill="none" stroke-linejoin="round" stroke-dasharray="6 2.6 1.6 2.8"/>
<path d="M60.90,298.00 L61.24,299.41 L61.61,300.87 L62.01,302.34 L62.47,303.81 L62.97,305.27 L63.52,306.72 L64.12,308.15 L64.79,309.55 L65.51,310.91 L66.29,312.22 L67.13,313.49 L68.04,314.69 L69.02,315.84 L70.05,316.93 L71.14,317.97 L72.27,318.96 L73.45,319.91 L74.68,320.81 L75.93,321.68 L77.22,322.51 L78.54,323.30 L79.88,324.07 L81.24,324.80 L82.61,325.52 L83.99,326.21 L85.37,326.88 L86.76,327.54 L88.15,328.19 L89.54,328.82 L90.93,329.43 L92.32,330.04 L93.71,330.63 L95.11,331.21 L96.50,331.77 L97.90,332.33 L99.30,332.87 L100.70,333.41 L102.11,333.93 L103.51,334.44 L104.92,334.95 L106.33,335.45 L107.74,335.94 L109.15,336.42 L110.57,336.90 L111.99,337.36 L113.41,337.83 L114.83,338.29 L116.26,338.74 L117.69,339.19 L119.12,339.63 L120.56,340.07 L121.99,340.51 L123.44,340.95 L124.88,341.38 L126.33,341.81 L127.78,342.25 L129.23,342.68 L130.69,343.11 L132.15,343.54 L133.62,343.97 L135.08,344.41 L136.56,344.84 L138.03,345.28 L139.51,345.72 L140.99,346.17 L142.48,346.62 L143.96,347.08 L145.45,347.54 L146.93,348.01 L148.42,348.48 L149.90,348.97 L151.37,349.46 L152.85,349.96 L154.32,350.48 L155.78,351.00 L157.23,351.54 L158.68,352.09 L160.12,352.66 L161.55,353.24 L162.97,353.83 L164.37,354.44 L165.77,355.07 L167.15,355.71 L168.52,356.38 L169.87,357.06 L171.21,357.76 L172.53,358.48 L173.83,359.23 L175.11,360.00 L176.38,360.79 L177.62,361.60 L178.84,362.44 L180.04,363.30 L181.22,364.19 L182.38,365.10 L183.51,366.05 L184.61,367.02 L185.69,368.02 L186.74,369.05 L187.76,370.11 L188.75,371.21 L189.71,372.33 L190.64,373.49 L191.54,374.68 L192.41,375.91 L193.24,377.17 L194.04,378.45 L194.82,379.77 L195.56,381.12 L196.27,382.48 L196.96,383.88 L197.61,385.29 L198.24,386.72 L198.84,388.17 L199.42,389.63 L199.97,391.11 L200.50,392.59 L201.01,394.09 L201.49,395.59 L201.95,397.10 L202.38,398.61 L202.80,400.12 L203.20,401.64 L203.57,403.14 L203.93,404.65 L204.27,406.15 L204.60,407.64 L204.90,409.12 L205.19,410.58 L205.47,412.03 L205.73,413.47 L205.98,414.89 L206.21,416.29 L206.50,417.70" stroke="#00ffff" stroke-width="1.9" fill="none" stroke-linejoin="round"/>
<path d="M60.90,282.70 L61.00,284.43 L61.53,285.93 L62.14,287.34 L62.83,288.68 L63.59,289.95 L64.42,291.15 L65.32,292.28 L66.28,293.35 L67.30,294.37 L68.37,295.33 L69.49,296.24 L70.65,297.10 L71.85,297.92 L73.08,298.70 L74.35,299.44 L75.64,300.15 L76.96,300.82 L78.31,301.47 L79.68,302.09 L81.07,302.68 L82.49,303.24 L83.91,303.79 L85.36,304.32 L86.81,304.83 L88.28,305.33 L89.76,305.81 L91.24,306.29 L92.73,306.76 L94.22,307.22 L95.71,307.68 L97.20,308.14 L98.69,308.61 L100.17,309.07 L101.65,309.55 L103.11,310.03 L104.57,310.52 L106.02,311.01 L107.46,311.51 L108.90,312.01 L110.33,312.52 L111.76,313.03 L113.18,313.53 L114.60,314.04 L116.01,314.55 L117.43,315.06 L118.84,315.56 L120.25,316.06 L121.66,316.55 L123.07,317.03 L124.48,317.51 L125.89,317.98 L127.31,318.44 L128.73,318.90 L130.15,319.33 L131.57,319.76 L133.00,320.17 L134.44,320.57 L135.88,320.96 L137.33,321.32 L138.79,321.67 L140.25,322.00 L141.72,322.32 L143.20,322.62 L144.68,322.91 L146.17,323.19 L147.66,323.46 L149.16,323.72 L150.66,323.98 L152.16,324.22 L153.67,324.47 L155.17,324.72 L156.68,324.96 L158.19,325.20 L159.70,325.45 L161.21,325.70 L162.71,325.96 L164.22,326.22 L165.72,326.50 L167.22,326.78 L168.72,327.08 L170.22,327.38 L171.70,327.71 L173.19,328.05 L174.67,328.40 L176.14,328.78 L177.61,329.18 L179.07,329.59 L180.52,330.04 L181.96,330.51 L183.39,331.00 L184.82,331.52 L186.23,332.08 L187.64,332.66 L189.03,333.27 L190.41,333.92 L191.77,334.59 L193.12,335.29 L194.45,336.02 L195.77,336.78 L197.07,337.57 L198.35,338.39 L199.60,339.24 L200.84,340.11 L202.05,341.01 L203.24,341.94 L204.41,342.90 L205.55,343.89 L206.66,344.90 L207.74,345.94 L208.80,347.01 L209.83,348.11 L210.82,349.23 L211.78,350.38 L212.71,351.55 L213.61,352.76 L214.47,353.98 L215.30,355.24 L216.09,356.51 L216.86,357.81 L217.59,359.13 L218.29,360.46 L218.96,361.82 L219.61,363.19 L220.23,364.58 L220.82,365.98 L221.39,367.39 L221.94,368.81 L222.46,370.25 L222.96,371.69 L223.43,373.14 L223.89,374.59 L224.33,376.05 L224.75,377.52 L225.15,378.99 L225.54,380.46 L225.91,381.93 L226.27,383.41 L226.61,384.89 L226.93,386.38 L227.25,387.86 L227.55,389.35 L227.84,390.84 L228.13,392.33 L228.40,393.82 L228.66,395.32 L228.92,396.81 L229.17,398.31 L229.41,399.80 L229.65,401.30 L229.88,402.79 L230.11,404.29 L230.33,405.78 L230.56,407.27 L230.78,408.76 L231.00,410.25 L231.22,411.74 L231.45,413.23 L231.67,414.71 L231.90,416.19 L232.10,417.70" stroke="#0000ff" stroke-width="1.9" fill="none" stroke-linejoin="round"/>
<path d="M60.70,267.90 L62.03,268.54 L63.40,269.24 L64.77,269.93 L66.14,270.61 L67.51,271.29 L68.89,271.96 L70.26,272.63 L71.64,273.29 L73.02,273.95 L74.40,274.60 L75.78,275.24 L77.16,275.88 L78.55,276.51 L79.93,277.14 L81.32,277.76 L82.71,278.38 L84.10,278.98 L85.49,279.59 L86.88,280.18 L88.28,280.78 L89.67,281.36 L91.07,281.94 L92.47,282.51 L93.87,283.08 L95.27,283.64 L96.68,284.19 L98.09,284.74 L99.49,285.28 L100.90,285.81 L102.32,286.34 L103.73,286.86 L105.15,287.38 L106.56,287.89 L107.98,288.39 L109.41,288.89 L110.83,289.38 L112.25,289.86 L113.68,290.33 L115.11,290.80 L116.54,291.27 L117.98,291.72 L119.41,292.17 L120.85,292.62 L122.29,293.05 L123.73,293.48 L125.18,293.90 L126.62,294.32 L128.07,294.73 L129.52,295.13 L130.98,295.52 L132.43,295.91 L133.89,296.29 L135.35,296.66 L136.82,297.03 L138.28,297.39 L139.75,297.74 L141.22,298.08 L142.69,298.42 L144.17,298.75 L145.64,299.07 L147.12,299.39 L148.61,299.70 L150.09,300.00 L151.58,300.29 L153.07,300.58 L154.56,300.86 L156.06,301.13 L157.56,301.39 L159.06,301.65 L160.56,301.90 L162.07,302.14 L163.58,302.37 L165.09,302.59 L166.60,302.81 L168.12,303.02 L169.64,303.23 L171.16,303.43 L172.68,303.63 L174.20,303.82 L175.73,304.02 L177.25,304.21 L178.77,304.40 L180.30,304.59 L181.82,304.79 L183.34,304.99 L184.86,305.19 L186.38,305.39 L187.89,305.61 L189.41,305.83 L190.91,306.05 L192.42,306.29 L193.92,306.53 L195.42,306.79 L196.92,307.05 L198.40,307.33 L199.89,307.63 L201.37,307.93 L202.84,308.26 L204.31,308.59 L205.77,308.95 L207.22,309.32 L208.66,309.71 L210.10,310.13 L211.53,310.56 L212.95,311.02 L214.36,311.49 L215.77,312.00 L217.16,312.52 L218.55,313.07 L219.92,313.65 L221.28,314.26 L222.64,314.90 L223.98,315.56 L225.31,316.25 L226.62,316.98 L227.93,317.74 L229.22,318.53 L230.50,319.36 L231.77,320.22 L233.02,321.11 L234.25,322.05 L235.46,323.01 L236.65,324.01 L237.80,325.04 L238.93,326.11 L240.02,327.21 L241.07,328.34 L242.07,329.50 L243.03,330.69 L243.95,331.92 L244.80,333.17 L245.61,334.45 L246.35,335.76 L247.02,337.10 L247.63,338.46 L248.18,339.85 L248.66,341.27 L249.08,342.71 L249.47,344.16 L249.81,345.63 L250.13,347.11 L250.43,348.60 L250.72,350.09 L251.01,351.59 L251.30,353.09 L251.61,354.58 L251.92,356.07 L252.24,357.56 L252.56,359.05 L252.87,360.53 L253.17,362.02 L253.46,363.51 L253.74,365.00 L254.00,366.50 L254.26,367.99 L254.50,369.48 L254.74,370.98 L254.96,372.48 L255.18,373.97 L255.38,375.47 L255.58,376.97 L255.77,378.47 L255.95,379.97 L256.12,381.47 L256.29,382.97 L256.45,384.48 L256.60,385.98 L256.75,387.49 L256.89,388.99 L257.03,390.50 L257.16,392.01 L257.29,393.51 L257.42,395.02 L257.54,396.53 L257.65,398.04 L257.77,399.55 L257.88,401.06 L257.99,402.57 L258.10,404.08 L258.21,405.59 L258.32,407.11 L258.42,408.62 L258.53,410.13 L258.64,411.65 L258.74,413.16 L258.85,414.68 L258.96,416.19 L259.10,417.70" stroke="#00ff00" stroke-width="1.9" fill="none" stroke-linejoin="round"/>
<path d="M60.70,263.20 L62.05,263.86 L63.40,264.54 L64.74,265.22 L66.09,265.90 L67.44,266.57 L68.80,267.24 L70.16,267.90 L71.52,268.56 L72.89,269.21 L74.25,269.86 L75.62,270.50 L77.00,271.13 L78.37,271.76 L79.75,272.39 L81.14,273.00 L82.52,273.62 L83.91,274.22 L85.30,274.83 L86.69,275.42 L88.09,276.01 L89.49,276.59 L90.89,277.17 L92.29,277.74 L93.70,278.31 L95.11,278.86 L96.52,279.42 L97.93,279.96 L99.35,280.50 L100.77,281.03 L102.19,281.56 L103.61,282.07 L105.04,282.58 L106.47,283.09 L107.90,283.58 L109.33,284.07 L110.76,284.56 L112.20,285.03 L113.64,285.50 L115.08,285.96 L116.52,286.41 L117.97,286.86 L119.42,287.29 L120.87,287.72 L122.32,288.14 L123.77,288.56 L125.23,288.96 L126.68,289.36 L128.14,289.75 L129.60,290.13 L131.07,290.50 L132.53,290.86 L134.00,291.22 L135.47,291.57 L136.93,291.90 L138.41,292.23 L139.88,292.55 L141.35,292.86 L142.83,293.17 L144.31,293.46 L145.78,293.74 L147.26,294.02 L148.75,294.28 L150.23,294.54 L151.71,294.79 L153.20,295.02 L154.69,295.25 L156.17,295.47 L157.66,295.68 L159.16,295.88 L160.65,296.06 L162.14,296.24 L163.63,296.41 L165.13,296.57 L166.63,296.72 L168.12,296.86 L169.62,296.99 L171.13,297.11 L172.63,297.22 L174.13,297.33 L175.64,297.43 L177.16,297.52 L178.67,297.61 L180.19,297.69 L181.71,297.77 L183.24,297.84 L184.77,297.92 L186.30,297.99 L187.84,298.05 L189.39,298.12 L190.94,298.18 L192.49,298.25 L194.05,298.31 L195.61,298.38 L197.18,298.46 L198.74,298.56 L200.29,298.66 L201.84,298.79 L203.38,298.94 L204.91,299.12 L206.42,299.34 L207.92,299.58 L209.40,299.87 L210.86,300.19 L212.30,300.56 L213.71,300.99 L215.09,301.46 L216.45,302.00 L217.77,302.59 L219.06,303.25 L220.31,303.96 L221.55,304.72 L222.77,305.52 L223.99,306.35 L225.20,307.20 L226.43,308.06 L227.66,308.92 L228.92,309.77 L230.21,310.61 L231.53,311.42 L232.89,312.19 L234.28,312.94 L235.69,313.68 L237.11,314.41 L238.53,315.13 L239.94,315.87 L241.33,316.62 L242.69,317.39 L244.01,318.20 L245.28,319.05 L246.49,319.94 L247.64,320.88 L248.73,321.87 L249.77,322.90 L250.76,323.97 L251.69,325.08 L252.57,326.23 L253.41,327.42 L254.20,328.64 L254.94,329.89 L255.64,331.18 L256.30,332.49 L256.92,333.83 L257.50,335.20 L258.05,336.59 L258.56,338.00 L259.03,339.43 L259.48,340.89 L259.90,342.35 L260.29,343.84 L260.65,345.34 L260.99,346.84 L261.31,348.36 L261.61,349.89 L261.89,351.42 L262.15,352.96 L262.40,354.50 L262.63,356.04 L262.86,357.58 L263.07,359.11 L263.27,360.65 L263.47,362.17 L263.66,363.69 L263.84,365.21 L264.02,366.72 L264.19,368.23 L264.35,369.73 L264.51,371.23 L264.66,372.73 L264.81,374.22 L264.95,375.72 L265.09,377.20 L265.23,378.69 L265.35,380.18 L265.48,381.66 L265.60,383.14 L265.72,384.63 L265.83,386.11 L265.94,387.59 L266.05,389.07 L266.15,390.55 L266.25,392.04 L266.35,393.52 L266.44,395.01 L266.54,396.50 L266.63,397.99 L266.72,399.48 L266.81,400.98 L266.89,402.48 L266.98,403.98 L267.06,405.49 L267.15,407.00 L267.23,408.52 L267.32,410.04 L267.40,411.56 L267.48,413.10 L267.57,414.63 L267.65,416.18 L267.70,417.70" stroke="#ff0000" stroke-width="1.9" fill="none" stroke-linejoin="round"/>
<path d="M60.70,260.50 L62.08,261.10 L63.43,261.79 L64.78,262.47 L66.13,263.14 L67.49,263.81 L68.85,264.47 L70.22,265.12 L71.58,265.76 L72.95,266.40 L74.33,267.03 L75.71,267.65 L77.09,268.26 L78.47,268.86 L79.86,269.46 L81.25,270.05 L82.64,270.63 L84.03,271.20 L85.43,271.76 L86.83,272.32 L88.24,272.87 L89.65,273.42 L91.05,273.95 L92.47,274.48 L93.88,275.00 L95.30,275.51 L96.72,276.02 L98.14,276.51 L99.57,277.00 L101.00,277.49 L102.43,277.96 L103.86,278.43 L105.29,278.89 L106.73,279.34 L108.17,279.79 L109.61,280.23 L111.06,280.66 L112.50,281.09 L113.95,281.50 L115.40,281.91 L116.85,282.32 L118.31,282.71 L119.76,283.10 L121.22,283.48 L122.68,283.86 L124.14,284.23 L125.61,284.59 L127.07,284.94 L128.54,285.29 L130.01,285.63 L131.48,285.96 L132.95,286.29 L134.42,286.61 L135.90,286.92 L137.38,287.23 L138.85,287.53 L140.33,287.82 L141.81,288.11 L143.30,288.38 L144.78,288.66 L146.27,288.92 L147.75,289.18 L149.24,289.43 L150.73,289.68 L152.22,289.92 L153.71,290.15 L155.20,290.38 L156.69,290.60 L158.19,290.81 L159.68,291.02 L161.18,291.22 L162.67,291.42 L164.17,291.60 L165.67,291.78 L167.17,291.96 L168.67,292.13 L170.17,292.30 L171.67,292.46 L173.17,292.61 L174.67,292.77 L176.17,292.92 L177.67,293.07 L179.17,293.21 L180.67,293.36 L182.17,293.50 L183.67,293.65 L185.17,293.80 L186.67,293.94 L188.17,294.09 L189.67,294.24 L191.17,294.39 L192.67,294.55 L194.17,294.71 L195.66,294.88 L197.16,295.05 L198.65,295.22 L200.15,295.40 L201.64,295.59 L203.13,295.78 L204.62,295.98 L206.11,296.20 L207.59,296.41 L209.08,296.64 L210.56,296.88 L212.04,297.13 L213.52,297.39 L215.00,297.66 L216.47,297.94 L217.95,298.24 L219.42,298.54 L220.89,298.86 L222.35,299.20 L223.82,299.55 L225.28,299.92 L226.74,300.30 L228.20,300.70 L229.65,301.11 L231.10,301.54 L232.55,301.99 L233.99,302.46 L235.44,302.95 L236.87,303.46 L238.31,303.98 L239.74,304.53 L241.17,305.10 L242.59,305.69 L244.00,306.31 L245.41,306.94 L246.80,307.60 L248.18,308.29 L249.55,309.00 L250.90,309.73 L252.24,310.49 L253.55,311.28 L254.85,312.10 L256.13,312.94 L257.39,313.81 L258.62,314.71 L259.83,315.64 L261.00,316.60 L262.15,317.59 L263.26,318.61 L264.32,319.67 L265.34,320.75 L266.31,321.87 L267.22,323.02 L268.08,324.21 L268.87,325.43 L269.60,326.69 L270.26,327.98 L270.86,329.30 L271.41,330.65 L271.91,332.02 L272.35,333.42 L272.76,334.84 L273.11,336.29 L273.43,337.75 L273.72,339.23 L273.97,340.72 L274.19,342.23 L274.39,343.74 L274.57,345.27 L274.73,346.80 L274.87,348.33 L275.00,349.87 L275.12,351.41 L275.24,352.94 L275.36,354.47 L275.47,356.00 L275.59,357.53 L275.70,359.05 L275.81,360.57 L275.92,362.08 L276.02,363.60 L276.13,365.11 L276.23,366.61 L276.33,368.12 L276.43,369.62 L276.52,371.12 L276.62,372.62 L276.71,374.12 L276.80,375.62 L276.88,377.11 L276.97,378.61 L277.05,380.10 L277.13,381.60 L277.20,383.09 L277.27,384.58 L277.34,386.07 L277.41,387.56 L277.47,389.06 L277.53,390.55 L277.59,392.04 L277.64,393.54 L277.69,395.03 L277.74,396.53 L277.78,398.03 L277.82,399.53 L277.85,401.03 L277.88,402.53 L277.91,404.03 L277.93,405.54 L277.95,407.05 L277.96,408.56 L277.97,410.08 L277.98,411.59 L277.98,413.12 L277.97,414.64 L277.96,416.17 L277.90,417.70" stroke="#000000" stroke-width="1.9" fill="none" stroke-linejoin="round"/>
<path d="M60.35,245.6 H310.1 Q311.6,245.6 311.6,247.1 V433.9 H60.35 Z" fill="none" stroke="#1e1e1e" stroke-width="1.3"/>
<path d="M56.050000000000004,433.90H60.35 M57.75,422.82H60.35 M56.050000000000004,411.75H60.35 M57.75,400.67H60.35 M56.050000000000004,389.59H60.35 M57.75,378.52H60.35 M56.050000000000004,367.44H60.35 M57.75,356.36H60.35 M56.050000000000004,345.29H60.35 M57.75,334.21H60.35 M56.050000000000004,323.14H60.35 M57.75,312.06H60.35 M56.050000000000004,300.98H60.35 M57.75,289.91H60.35 M56.050000000000004,278.83H60.35 M57.75,267.75H60.35 M56.050000000000004,256.68H60.35 M57.75,245.60H60.35 M60.35,433.9V437.9 M75.13,433.9V436.09999999999997 M89.91,433.9V437.9 M104.69,433.9V436.09999999999997 M119.47,433.9V437.9 M134.25,433.9V436.09999999999997 M149.03,433.9V437.9 M163.81,433.9V436.09999999999997 M178.59,433.9V437.9 M193.36,433.9V436.09999999999997 M208.14,433.9V437.9 M222.92,433.9V436.09999999999997 M237.70,433.9V437.9 M252.48,433.9V436.09999999999997 M267.26,433.9V437.9 M282.04,433.9V436.09999999999997 M296.82,433.9V437.9 M311.60,433.9V436.09999999999997" stroke="#1e1e1e" stroke-width="1.3" fill="none"/>
<text x="52.45" y="436.60" class="tk" text-anchor="end">2.6</text>
<text x="52.45" y="414.45" class="tk" text-anchor="end">2.8</text>
<text x="52.45" y="392.29" class="tk" text-anchor="end">3.0</text>
<text x="52.45" y="370.14" class="tk" text-anchor="end">3.2</text>
<text x="52.45" y="347.99" class="tk" text-anchor="end">3.4</text>
<text x="52.45" y="325.84" class="tk" text-anchor="end">3.6</text>
<text x="52.45" y="303.68" class="tk" text-anchor="end">3.8</text>
<text x="52.45" y="281.53" class="tk" text-anchor="end">4.0</text>
<text x="52.45" y="259.38" class="tk" text-anchor="end">4.2</text>
<text x="59.55" y="447.50" class="tk" text-anchor="middle">0</text>
<text x="89.11" y="447.50" class="tk" text-anchor="middle">20</text>
<text x="118.67" y="447.50" class="tk" text-anchor="middle">40</text>
<text x="148.23" y="447.50" class="tk" text-anchor="middle">60</text>
<text x="177.79" y="447.50" class="tk" text-anchor="middle">80</text>
<text x="207.34" y="447.50" class="tk" text-anchor="middle">100</text>
<text x="236.90" y="447.50" class="tk" text-anchor="middle">120</text>
<text x="266.46" y="447.50" class="tk" text-anchor="middle">140</text>
<text x="296.02" y="447.50" class="tk" text-anchor="middle">160</text>
<text transform="translate(185.0,466.0) scale(1.03,1.2)" class="ttl" text-anchor="middle">Capacity/mAh g-1</text>
<text transform="translate(27.0,334.7) rotate(-90)" class="ttl" text-anchor="middle">Voltage/V</text>
<text transform="translate(1.5,271.3) scale(1.06,1)" class="pl" style="stroke-width:0.8px">(c)</text>
<rect x="64.4" y="345.7" width="34.20" height="84.80" rx="1.2" fill="#fff" stroke="#222" stroke-width="1.3"/>
<path d="M65.1,350.20H82.5" stroke="#000000" stroke-width="2.2"/>
<text x="83.6" y="352.80" class="lg-sansc">0.5c</text>
<path d="M65.1,358.56H82.5" stroke="#000000" stroke-width="2.2" stroke-dasharray="6 2.6 1.6 2.8"/>
<text x="83.6" y="361.16" class="lg-sansc">0.5c</text>
<path d="M65.1,366.92H82.5" stroke="#ff0000" stroke-width="2.2"/>
<text x="83.6" y="369.52" class="lg-sansc">1c</text>
<path d="M65.1,375.28H82.5" stroke="#ff0000" stroke-width="2.2" stroke-dasharray="6 2.6 1.6 2.8"/>
<text x="83.6" y="377.88" class="lg-sansc">1c</text>
<path d="M65.1,383.64H82.5" stroke="#00ff00" stroke-width="2.2"/>
<text x="83.6" y="386.24" class="lg-sansc">2c</text>
<path d="M65.1,392.00H82.5" stroke="#00ff00" stroke-width="2.2" stroke-dasharray="6 2.6 1.6 2.8"/>
<text x="83.6" y="394.60" class="lg-sansc">2c</text>
<path d="M65.1,400.36H82.5" stroke="#0000ff" stroke-width="2.2"/>
<text x="83.6" y="402.96" class="lg-sansc">5c</text>
<path d="M65.1,408.72H82.5" stroke="#0000ff" stroke-width="2.2" stroke-dasharray="6 2.6 1.6 2.8"/>
<text x="83.6" y="411.32" class="lg-sansc">5c</text>
<path d="M65.1,417.08H82.5" stroke="#00ffff" stroke-width="2.2"/>
<text x="83.6" y="419.68" class="lg-sansc">8c</text>
<path d="M65.1,425.44H82.5" stroke="#00ffff" stroke-width="2.2" stroke-dasharray="6 2.6 1.6 2.8"/>
<text x="83.6" y="428.04" class="lg-sansc">8c</text>
<path d="M379.00,286.00 L380.07,284.82 L381.29,284.09 L382.59,283.56 L383.96,283.18 L385.38,282.93 L386.84,282.77 L388.33,282.69 L389.85,282.66 L391.39,282.67 L392.95,282.71 L394.52,282.76 L396.09,282.79 L397.65,282.81 L399.21,282.79 L400.76,282.74 L402.30,282.66 L403.84,282.55 L405.37,282.42 L406.90,282.26 L408.42,282.09 L409.94,281.89 L411.45,281.67 L412.96,281.43 L414.47,281.18 L415.97,280.91 L417.48,280.63 L418.98,280.34 L420.47,280.04 L421.97,279.74 L423.47,279.42 L424.96,279.10 L426.46,278.78 L427.95,278.46 L429.45,278.13 L430.94,277.79 L432.43,277.45 L433.92,277.11 L435.42,276.76 L436.91,276.41 L438.40,276.06 L439.88,275.69 L441.37,275.33 L442.86,274.95 L444.34,274.58 L445.83,274.19 L447.31,273.81 L448.79,273.41 L450.27,273.01 L451.75,272.61 L453.22,272.19 L454.70,271.78 L456.17,271.35 L457.64,270.92 L459.11,270.48 L460.57,270.04 L462.04,269.59 L463.50,269.13 L464.96,268.67 L466.41,268.19 L467.87,267.72 L469.32,267.23 L470.77,266.74 L472.21,266.23 L473.66,265.72 L475.10,265.21 L476.54,264.68 L477.97,264.15 L479.40,263.61 L480.83,263.06 L482.26,262.50 L483.68,261.93 L485.10,261.36 L486.51,260.77 L487.92,260.18 L489.33,259.58 L490.73,258.97 L492.13,258.35 L493.53,257.72 L494.92,257.08 L496.30,256.40" stroke="#00ffff" stroke-width="1.9" fill="none" stroke-linejoin="round" stroke-dasharray="6 2.6 1.6 2.8"/>
<path d="M379.00,297.00 L378.84,295.06 L379.10,293.38 L379.56,291.92 L380.21,290.66 L381.01,289.59 L381.97,288.69 L383.05,287.95 L384.23,287.34 L385.50,286.86 L386.86,286.48 L388.28,286.20 L389.75,285.99 L391.28,285.86 L392.83,285.77 L394.41,285.71 L396.00,285.68 L397.59,285.66 L399.17,285.63 L400.74,285.60 L402.31,285.57 L403.88,285.55 L405.44,285.51 L406.99,285.48 L408.54,285.45 L410.08,285.41 L411.62,285.38 L413.15,285.33 L414.69,285.29 L416.21,285.25 L417.74,285.20 L419.25,285.15 L420.77,285.09 L422.28,285.03 L423.79,284.97 L425.30,284.91 L426.81,284.84 L428.31,284.76 L429.81,284.69 L431.31,284.60 L432.81,284.52 L434.30,284.42 L435.80,284.33 L437.29,284.23 L438.79,284.12 L440.28,284.00 L441.77,283.88 L443.26,283.76 L444.76,283.63 L446.25,283.49 L447.74,283.34 L449.24,283.19 L450.73,283.03 L452.23,282.87 L453.72,282.70 L455.22,282.52 L456.72,282.33 L458.21,282.14 L459.71,281.94 L461.21,281.73 L462.70,281.52 L464.20,281.30 L465.70,281.08 L467.20,280.85 L468.69,280.61 L470.19,280.36 L471.69,280.11 L473.18,279.85 L474.68,279.59 L476.17,279.32 L477.67,279.04 L479.16,278.76 L480.65,278.47 L482.15,278.17 L483.64,277.87 L485.13,277.56 L486.62,277.24 L488.11,276.92 L489.59,276.59 L491.08,276.26 L492.56,275.91 L494.05,275.57 L495.53,275.21 L497.01,274.85 L498.49,274.49 L499.97,274.11 L501.44,273.73 L502.91,273.35 L504.39,272.96 L505.86,272.56 L507.32,272.16 L508.79,271.75 L510.25,271.33 L511.72,270.91 L513.17,270.48 L514.63,270.05 L516.09,269.60 L517.54,269.16 L518.99,268.71 L520.44,268.25 L521.88,267.78 L523.32,267.31 L524.76,266.84 L526.20,266.35 L527.63,265.87 L529.06,265.37 L530.49,264.87 L531.91,264.36 L533.33,263.85 L534.75,263.34 L536.16,262.81 L537.57,262.28 L538.98,261.75 L540.38,261.21 L541.78,260.66 L543.18,260.11 L544.57,259.55 L545.96,258.98 L547.34,258.41 L548.72,257.84 L550.10,257.10" stroke="#0000ff" stroke-width="1.9" fill="none" stroke-linejoin="round" stroke-dasharray="6 2.6 1.6 2.8"/>
<path d="M378.60,305.20 L379.50,304.09 L380.32,302.74 L381.18,301.40 L382.07,300.09 L382.98,298.80 L383.93,297.54 L384.91,296.32 L385.92,295.14 L386.97,294.01 L388.05,292.94 L389.16,291.93 L390.31,290.98 L391.50,290.10 L392.72,289.30 L393.97,288.57 L395.26,287.92 L396.58,287.34 L397.93,286.84 L399.32,286.41 L400.72,286.04 L402.15,285.74 L403.61,285.48 L405.08,285.28 L406.57,285.12 L408.08,285.00 L409.60,284.92 L411.13,284.87 L412.67,284.84 L414.22,284.83 L415.77,284.84 L417.33,284.86 L418.88,284.88 L420.43,284.91 L421.98,284.93 L423.53,284.95 L425.07,284.96 L426.61,284.97 L428.15,284.98 L429.68,284.99 L431.21,284.99 L432.74,284.99 L434.26,284.98 L435.79,284.97 L437.31,284.96 L438.83,284.94 L440.35,284.92 L441.86,284.89 L443.38,284.86 L444.89,284.82 L446.40,284.78 L447.91,284.73 L449.42,284.68 L450.93,284.62 L452.44,284.56 L453.94,284.49 L455.45,284.42 L456.96,284.34 L458.46,284.25 L459.97,284.16 L461.47,284.06 L462.98,283.96 L464.49,283.84 L465.99,283.73 L467.50,283.61 L469.00,283.48 L470.51,283.34 L472.01,283.20 L473.52,283.05 L475.02,282.90 L476.53,282.74 L478.03,282.58 L479.53,282.40 L481.04,282.23 L482.54,282.05 L484.04,281.86 L485.55,281.66 L487.05,281.46 L488.55,281.26 L490.05,281.05 L491.55,280.83 L493.05,280.60 L494.55,280.38 L496.04,280.14 L497.54,279.90 L499.04,279.66 L500.53,279.40 L502.03,279.15 L503.52,278.88 L505.02,278.62 L506.51,278.34 L508.00,278.06 L509.49,277.78 L510.98,277.49 L512.47,277.19 L513.96,276.89 L515.45,276.59 L516.93,276.28 L518.42,275.96 L519.90,275.64 L521.39,275.31 L522.87,274.98 L524.35,274.64 L525.83,274.30 L527.31,273.95 L528.79,273.59 L530.26,273.24 L531.74,272.87 L533.21,272.50 L534.68,272.13 L536.16,271.75 L537.63,271.36 L539.09,270.98 L540.56,270.58 L542.03,270.18 L543.49,269.78 L544.95,269.37 L546.41,268.96 L547.87,268.54 L549.33,268.11 L550.79,267.68 L552.24,267.25 L553.70,266.81 L555.15,266.37 L556.60,265.92 L558.04,265.47 L559.49,265.01 L560.93,264.55 L562.38,264.08 L563.82,263.61 L565.26,263.14 L566.69,262.66 L568.13,262.17 L569.56,261.68 L570.99,261.19 L572.42,260.69 L573.85,260.18 L575.28,259.68 L576.70,259.16 L578.12,258.65 L579.54,258.13 L580.96,257.60 L582.40,257.10" stroke="#00ff00" stroke-width="1.9" fill="none" stroke-linejoin="round" stroke-dasharray="6 2.6 1.6 2.8"/>
<path d="M378.60,306.70 L379.06,304.93 L379.79,303.55 L380.70,302.43 L381.76,301.52 L382.94,300.75 L384.20,300.08 L385.51,299.45 L386.84,298.83 L388.17,298.14 L389.45,297.36 L390.70,296.48 L391.93,295.54 L393.13,294.56 L394.33,293.55 L395.53,292.55 L396.74,291.59 L397.96,290.67 L399.22,289.84 L400.51,289.10 L401.83,288.45 L403.19,287.87 L404.57,287.38 L405.97,286.95 L407.40,286.59 L408.85,286.30 L410.32,286.05 L411.80,285.85 L413.31,285.70 L414.82,285.59 L416.34,285.51 L417.87,285.45 L419.41,285.42 L420.95,285.41 L422.50,285.40 L424.04,285.40 L425.58,285.40 L427.12,285.40 L428.66,285.39 L430.19,285.38 L431.71,285.37 L433.24,285.35 L434.76,285.33 L436.28,285.31 L437.80,285.28 L439.31,285.25 L440.83,285.22 L442.34,285.18 L443.85,285.14 L445.36,285.09 L446.86,285.05 L448.37,284.99 L449.88,284.94 L451.38,284.88 L452.89,284.81 L454.39,284.75 L455.90,284.68 L457.40,284.60 L458.91,284.52 L460.41,284.44 L461.92,284.35 L463.42,284.26 L464.93,284.17 L466.43,284.07 L467.94,283.97 L469.45,283.86 L470.95,283.75 L472.46,283.64 L473.96,283.52 L475.47,283.40 L476.98,283.27 L478.48,283.14 L479.99,283.01 L481.49,282.87 L483.00,282.73 L484.51,282.58 L486.01,282.43 L487.52,282.28 L489.02,282.12 L490.52,281.95 L492.03,281.79 L493.53,281.61 L495.04,281.44 L496.54,281.26 L498.04,281.07 L499.54,280.88 L501.04,280.69 L502.55,280.49 L504.05,280.29 L505.55,280.08 L507.04,279.87 L508.54,279.65 L510.04,279.43 L511.54,279.20 L513.04,278.98 L514.53,278.74 L516.03,278.50 L517.52,278.26 L519.02,278.01 L520.51,277.76 L522.00,277.50 L523.49,277.24 L524.98,276.97 L526.47,276.70 L527.96,276.42 L529.45,276.14 L530.94,275.85 L532.42,275.56 L533.91,275.27 L535.39,274.96 L536.88,274.66 L538.36,274.35 L539.84,274.03 L541.32,273.71 L542.80,273.39 L544.27,273.06 L545.75,272.72 L547.22,272.38 L548.70,272.03 L550.17,271.68 L551.64,271.33 L553.11,270.97 L554.58,270.60 L556.04,270.23 L557.51,269.85 L558.97,269.47 L560.44,269.08 L561.90,268.69 L563.36,268.29 L564.81,267.89 L566.27,267.48 L567.72,267.07 L569.18,266.65 L570.63,266.23 L572.08,265.80 L573.53,265.36 L574.97,264.92 L576.42,264.48 L577.86,264.03 L579.30,263.57 L580.74,263.11 L582.18,262.64 L583.61,262.17 L585.05,261.69 L586.48,261.20 L587.91,260.71 L589.34,260.22 L590.76,259.72 L592.18,259.21 L593.61,258.70 L595.03,258.18 L596.44,257.65 L597.86,257.12 L599.20,256.40" stroke="#ff0000" stroke-width="1.9" fill="none" stroke-linejoin="round" stroke-dasharray="6 2.6 1.6 2.8"/>
<path d="M379.00,306.00 L380.30,305.27 L381.60,304.55 L382.89,303.80 L384.17,303.02 L385.44,302.21 L386.69,301.37 L387.94,300.51 L389.19,299.63 L390.43,298.74 L391.66,297.83 L392.89,296.91 L394.12,295.99 L395.36,295.06 L396.59,294.14 L397.83,293.23 L399.08,292.34 L400.33,291.48 L401.60,290.65 L402.88,289.87 L404.18,289.13 L405.50,288.46 L406.84,287.85 L408.20,287.31 L409.59,286.86 L411.00,286.47 L412.43,286.15 L413.88,285.90 L415.34,285.69 L416.82,285.54 L418.32,285.43 L419.83,285.36 L421.34,285.33 L422.87,285.32 L424.40,285.33 L425.93,285.36 L427.47,285.40 L429.00,285.44 L430.54,285.48 L432.07,285.52 L433.60,285.55 L435.13,285.58 L436.65,285.60 L438.18,285.62 L439.70,285.63 L441.22,285.64 L442.74,285.65 L444.26,285.65 L445.77,285.64 L447.29,285.63 L448.80,285.62 L450.32,285.60 L451.83,285.57 L453.34,285.54 L454.85,285.51 L456.36,285.46 L457.87,285.42 L459.38,285.37 L460.89,285.31 L462.40,285.25 L463.91,285.18 L465.42,285.11 L466.93,285.04 L468.44,284.96 L469.95,284.87 L471.46,284.78 L472.97,284.68 L474.48,284.58 L475.98,284.47 L477.49,284.36 L479.00,284.24 L480.50,284.12 L482.01,284.00 L483.52,283.86 L485.02,283.73 L486.53,283.59 L488.03,283.44 L489.54,283.29 L491.04,283.13 L492.54,282.97 L494.04,282.81 L495.55,282.64 L497.05,282.46 L498.55,282.28 L500.05,282.10 L501.55,281.91 L503.05,281.71 L504.55,281.52 L506.05,281.31 L507.54,281.10 L509.04,280.89 L510.54,280.67 L512.03,280.45 L513.53,280.22 L515.02,279.99 L516.52,279.76 L518.01,279.52 L519.50,279.27 L521.00,279.02 L522.49,278.77 L523.98,278.51 L525.47,278.24 L526.96,277.98 L528.44,277.70 L529.93,277.43 L531.42,277.15 L532.90,276.86 L534.39,276.57 L535.87,276.28 L537.36,275.98 L538.84,275.67 L540.32,275.37 L541.80,275.06 L543.28,274.74 L544.76,274.42 L546.24,274.09 L547.72,273.76 L549.19,273.43 L550.67,273.09 L552.14,272.75 L553.61,272.41 L555.09,272.06 L556.56,271.70 L558.03,271.34 L559.50,270.98 L560.97,270.61 L562.43,270.24 L563.90,269.87 L565.37,269.49 L566.83,269.10 L568.29,268.72 L569.76,268.33 L571.22,267.93 L572.68,267.53 L574.13,267.13 L575.59,266.72 L577.05,266.31 L578.50,265.89 L579.96,265.47 L581.41,265.05 L582.86,264.62 L584.31,264.19 L585.76,263.76 L587.21,263.32 L588.66,262.87 L590.10,262.43 L591.55,261.98 L592.99,261.52 L594.43,261.07 L595.87,260.60 L597.31,260.14 L598.75,259.67 L600.18,259.19 L601.62,258.72 L603.05,258.24 L604.50,257.80" stroke="#000000" stroke-width="1.9" fill="none" stroke-linejoin="round" stroke-dasharray="6 2.6 1.6 2.8"/>
<path d="M379.10,300.50 L379.70,301.89 L380.18,303.36 L380.69,304.81 L381.23,306.25 L381.81,307.67 L382.43,309.07 L383.07,310.45 L383.76,311.81 L384.48,313.14 L385.24,314.45 L386.03,315.74 L386.87,316.99 L387.74,318.23 L388.64,319.43 L389.57,320.62 L390.52,321.78 L391.51,322.92 L392.51,324.04 L393.54,325.14 L394.58,326.22 L395.65,327.29 L396.73,328.33 L397.83,329.36 L398.95,330.37 L400.08,331.37 L401.22,332.35 L402.39,333.32 L403.56,334.27 L404.75,335.21 L405.95,336.14 L407.16,337.06 L408.38,337.97 L409.61,338.86 L410.85,339.75 L412.09,340.63 L413.35,341.50 L414.61,342.37 L415.88,343.23 L417.15,344.08 L418.42,344.93 L419.70,345.77 L420.98,346.61 L422.26,347.45 L423.55,348.29 L424.83,349.12 L426.12,349.96 L427.40,350.79 L428.68,351.63 L429.96,352.46 L431.23,353.30 L432.50,354.14 L433.77,354.99 L435.03,355.83 L436.29,356.68 L437.55,357.54 L438.80,358.39 L440.05,359.25 L441.29,360.12 L442.54,360.99 L443.77,361.86 L445.01,362.73 L446.24,363.62 L447.47,364.50 L448.69,365.39 L449.91,366.29 L451.12,367.19 L452.34,368.09 L453.54,369.01 L454.75,369.92 L455.95,370.85 L457.15,371.78 L458.34,372.72 L459.53,373.66 L460.72,374.61 L461.90,375.57 L463.08,376.53 L464.25,377.50 L465.41,378.48 L466.57,379.48 L467.71,380.49 L468.84,381.51 L469.94,382.55 L471.02,383.61 L472.08,384.70 L473.11,385.80 L474.11,386.94 L475.08,388.10 L476.01,389.28 L476.91,390.50 L477.77,391.74 L478.60,393.01 L479.40,394.29 L480.18,395.60 L480.93,396.93 L481.65,398.27 L482.35,399.63 L483.03,401.00 L483.69,402.38 L484.34,403.77 L484.96,405.17 L485.58,406.58 L486.18,407.99 L486.77,409.40 L487.35,410.81 L487.92,412.22 L488.49,413.63 L489.05,415.03 L489.61,416.42 L490.20,417.80" stroke="#00ffff" stroke-width="1.9" fill="none" stroke-linejoin="round"/>
<path d="M378.90,281.00 L378.59,282.96 L378.76,284.60 L379.22,286.03 L379.92,287.29 L380.80,288.43 L381.81,289.47 L382.89,290.45 L384.00,291.40 L385.16,292.32 L386.34,293.21 L387.55,294.07 L388.78,294.90 L390.04,295.71 L391.33,296.50 L392.64,297.26 L393.96,298.00 L395.31,298.72 L396.67,299.41 L398.05,300.10 L399.43,300.76 L400.83,301.41 L402.24,302.04 L403.66,302.66 L405.08,303.27 L406.50,303.87 L407.93,304.45 L409.35,305.03 L410.78,305.60 L412.21,306.17 L413.64,306.72 L415.07,307.26 L416.50,307.80 L417.93,308.33 L419.36,308.85 L420.80,309.37 L422.23,309.87 L423.67,310.37 L425.10,310.86 L426.54,311.35 L427.98,311.83 L429.42,312.30 L430.86,312.77 L432.30,313.23 L433.74,313.69 L435.18,314.14 L436.62,314.58 L438.07,315.02 L439.52,315.45 L440.96,315.88 L442.41,316.30 L443.86,316.72 L445.31,317.14 L446.76,317.55 L448.21,317.95 L449.67,318.36 L451.12,318.76 L452.58,319.15 L454.03,319.54 L455.49,319.93 L456.95,320.32 L458.41,320.70 L459.87,321.08 L461.33,321.46 L462.80,321.83 L464.26,322.21 L465.73,322.58 L467.19,322.95 L468.66,323.32 L470.13,323.68 L471.60,324.05 L473.07,324.41 L474.55,324.78 L476.02,325.14 L477.50,325.50 L478.97,325.87 L480.45,326.23 L481.93,326.59 L483.41,326.95 L484.90,327.32 L486.38,327.68 L487.86,328.05 L489.34,328.43 L490.81,328.81 L492.29,329.21 L493.76,329.61 L495.22,330.03 L496.68,330.46 L498.13,330.90 L499.58,331.36 L501.01,331.85 L502.44,332.35 L503.85,332.87 L505.26,333.42 L506.65,333.99 L508.03,334.59 L509.40,335.22 L510.75,335.88 L512.09,336.57 L513.41,337.29 L514.71,338.05 L516.00,338.84 L517.27,339.68 L518.52,340.55 L519.74,341.46 L520.95,342.40 L522.13,343.38 L523.29,344.39 L524.43,345.43 L525.54,346.50 L526.62,347.60 L527.68,348.73 L528.71,349.89 L529.71,351.07 L530.68,352.27 L531.61,353.49 L532.52,354.74 L533.40,356.01 L534.24,357.29 L535.04,358.59 L535.81,359.91 L536.55,361.24 L537.25,362.59 L537.91,363.95 L538.54,365.32 L539.14,366.70 L539.71,368.10 L540.25,369.50 L540.76,370.92 L541.25,372.35 L541.70,373.78 L542.14,375.23 L542.55,376.68 L542.94,378.14 L543.30,379.61 L543.65,381.08 L543.98,382.56 L544.29,384.05 L544.59,385.54 L544.87,387.04 L545.14,388.54 L545.40,390.04 L545.64,391.55 L545.88,393.06 L546.10,394.57 L546.32,396.08 L546.53,397.59 L546.74,399.11 L546.95,400.62 L547.15,402.13 L547.35,403.65 L547.55,405.15 L547.75,406.66 L547.95,408.17 L548.16,409.67 L548.37,411.17 L548.59,412.66 L548.82,414.15 L549.05,415.63 L549.30,417.10" stroke="#0000ff" stroke-width="1.9" fill="none" stroke-linejoin="round"/>
<path d="M378.70,267.90 L380.01,268.68 L381.33,269.42 L382.66,270.15 L384.00,270.86 L385.35,271.55 L386.70,272.23 L388.05,272.89 L389.41,273.54 L390.78,274.17 L392.15,274.79 L393.53,275.40 L394.91,276.00 L396.30,276.58 L397.69,277.16 L399.09,277.73 L400.48,278.28 L401.89,278.83 L403.29,279.37 L404.70,279.90 L406.11,280.43 L407.52,280.95 L408.94,281.47 L410.36,281.98 L411.78,282.48 L413.20,282.99 L414.62,283.49 L416.04,283.99 L417.47,284.49 L418.89,284.99 L420.32,285.49 L421.74,285.99 L423.16,286.49 L424.59,286.99 L426.01,287.50 L427.43,288.01 L428.85,288.52 L430.27,289.04 L431.69,289.56 L433.11,290.09 L434.52,290.62 L435.94,291.15 L437.35,291.68 L438.77,292.20 L440.18,292.73 L441.60,293.24 L443.02,293.75 L444.44,294.26 L445.87,294.75 L447.29,295.23 L448.72,295.70 L450.16,296.16 L451.60,296.60 L453.04,297.02 L454.49,297.43 L455.95,297.82 L457.41,298.18 L458.87,298.53 L460.34,298.86 L461.82,299.17 L463.30,299.46 L464.78,299.74 L466.27,300.00 L467.76,300.25 L469.26,300.49 L470.75,300.71 L472.25,300.93 L473.75,301.13 L475.25,301.33 L476.75,301.51 L478.25,301.70 L479.75,301.87 L481.26,302.04 L482.76,302.21 L484.25,302.38 L485.75,302.54 L487.25,302.70 L488.74,302.87 L490.24,303.03 L491.73,303.19 L493.22,303.36 L494.71,303.52 L496.20,303.69 L497.68,303.86 L499.17,304.04 L500.66,304.22 L502.14,304.41 L503.62,304.60 L505.10,304.79 L506.58,305.00 L508.06,305.21 L509.54,305.43 L511.02,305.66 L512.50,305.90 L513.98,306.14 L515.46,306.40 L516.94,306.66 L518.42,306.93 L519.91,307.21 L521.40,307.49 L522.90,307.78 L524.41,308.08 L525.92,308.38 L527.43,308.69 L528.94,309.02 L530.46,309.35 L531.97,309.70 L533.48,310.07 L534.99,310.45 L536.49,310.85 L537.98,311.27 L539.46,311.71 L540.93,312.17 L542.39,312.66 L543.83,313.18 L545.26,313.72 L546.67,314.29 L548.06,314.89 L549.43,315.52 L550.78,316.18 L552.10,316.88 L553.40,317.62 L554.67,318.39 L555.91,319.21 L557.12,320.06 L558.30,320.95 L559.45,321.89 L560.56,322.86 L561.64,323.87 L562.69,324.92 L563.70,326.00 L564.67,327.11 L565.60,328.26 L566.50,329.44 L567.35,330.64 L568.17,331.88 L568.95,333.14 L569.68,334.43 L570.37,335.75 L571.02,337.09 L571.63,338.45 L572.19,339.83 L572.70,341.24 L573.17,342.66 L573.60,344.10 L574.00,345.55 L574.36,347.02 L574.69,348.51 L574.99,350.00 L575.26,351.50 L575.51,353.01 L575.74,354.53 L575.96,356.06 L576.15,357.58 L576.34,359.11 L576.51,360.65 L576.68,362.18 L576.85,363.71 L577.01,365.23 L577.18,366.75 L577.34,368.27 L577.51,369.78 L577.68,371.29 L577.84,372.79 L578.01,374.29 L578.18,375.79 L578.35,377.28 L578.51,378.77 L578.68,380.26 L578.84,381.75 L579.00,383.24 L579.16,384.72 L579.32,386.21 L579.47,387.69 L579.63,389.17 L579.77,390.66 L579.92,392.14 L580.06,393.63 L580.20,395.11 L580.33,396.60 L580.46,398.09 L580.58,399.58 L580.70,401.07 L580.82,402.57 L580.92,404.07 L581.03,405.57 L581.12,407.08 L581.21,408.58 L581.29,410.10 L581.36,411.62 L581.43,413.14 L581.49,414.67 L581.54,416.20 L581.70,417.70" stroke="#00ff00" stroke-width="1.9" fill="none" stroke-linejoin="round"/>
<path d="M378.70,263.80 L380.04,264.50 L381.40,265.17 L382.75,265.83 L384.12,266.48 L385.48,267.13 L386.85,267.77 L388.23,268.39 L389.61,269.01 L390.99,269.62 L392.38,270.23 L393.77,270.82 L395.17,271.41 L396.57,271.99 L397.97,272.56 L399.38,273.12 L400.79,273.68 L402.20,274.23 L403.61,274.77 L405.03,275.31 L406.46,275.83 L407.88,276.36 L409.31,276.87 L410.74,277.38 L412.17,277.89 L413.60,278.38 L415.04,278.87 L416.48,279.36 L417.92,279.84 L419.36,280.32 L420.80,280.79 L422.25,281.25 L423.69,281.71 L425.14,282.16 L426.59,282.61 L428.04,283.06 L429.49,283.50 L430.94,283.94 L432.39,284.37 L433.84,284.80 L435.30,285.22 L436.75,285.64 L438.21,286.05 L439.66,286.46 L441.12,286.86 L442.58,287.26 L444.04,287.65 L445.50,288.03 L446.96,288.41 L448.42,288.78 L449.89,289.15 L451.35,289.50 L452.82,289.85 L454.29,290.19 L455.76,290.53 L457.23,290.86 L458.70,291.17 L460.18,291.48 L461.66,291.79 L463.13,292.08 L464.62,292.36 L466.10,292.64 L467.58,292.90 L469.07,293.16 L470.56,293.41 L472.05,293.64 L473.54,293.87 L475.04,294.09 L476.53,294.29 L478.03,294.49 L479.53,294.67 L481.04,294.84 L482.55,295.00 L484.06,295.15 L485.57,295.29 L487.08,295.42 L488.60,295.54 L490.11,295.65 L491.63,295.76 L493.15,295.85 L494.67,295.94 L496.20,296.03 L497.72,296.11 L499.24,296.19 L500.77,296.27 L502.29,296.34 L503.82,296.41 L505.34,296.49 L506.86,296.56 L508.39,296.64 L509.91,296.72 L511.43,296.80 L512.95,296.88 L514.47,296.98 L515.98,297.07 L517.50,297.18 L519.01,297.29 L520.52,297.41 L522.03,297.54 L523.53,297.68 L525.04,297.83 L526.54,297.99 L528.03,298.17 L529.52,298.36 L531.01,298.56 L532.50,298.78 L533.98,299.01 L535.46,299.26 L536.93,299.53 L538.40,299.82 L539.86,300.13 L541.32,300.46 L542.77,300.81 L544.22,301.18 L545.66,301.57 L547.09,301.99 L548.52,302.43 L549.94,302.90 L551.36,303.39 L552.77,303.91 L554.17,304.46 L555.57,305.03 L556.96,305.64 L558.34,306.27 L559.71,306.94 L561.08,307.63 L562.44,308.34 L563.79,309.08 L565.13,309.85 L566.46,310.63 L567.78,311.44 L569.10,312.26 L570.40,313.10 L571.69,313.97 L572.98,314.84 L574.25,315.73 L575.52,316.64 L576.77,317.55 L578.02,318.48 L579.24,319.43 L580.43,320.40 L581.59,321.39 L582.71,322.40 L583.77,323.46 L584.77,324.55 L585.71,325.68 L586.57,326.85 L587.36,328.07 L588.09,329.32 L588.75,330.61 L589.36,331.94 L589.91,333.30 L590.40,334.68 L590.85,336.09 L591.25,337.53 L591.62,338.99 L591.94,340.47 L592.23,341.96 L592.49,343.47 L592.73,344.99 L592.94,346.52 L593.13,348.06 L593.30,349.60 L593.46,351.14 L593.61,352.68 L593.76,354.22 L593.90,355.76 L594.04,357.29 L594.17,358.82 L594.30,360.34 L594.42,361.86 L594.55,363.38 L594.66,364.90 L594.77,366.42 L594.88,367.93 L594.99,369.44 L595.09,370.95 L595.19,372.45 L595.29,373.96 L595.38,375.46 L595.48,376.97 L595.56,378.47 L595.65,379.97 L595.74,381.47 L595.82,382.97 L595.90,384.47 L595.98,385.97 L596.06,387.46 L596.13,388.96 L596.21,390.46 L596.28,391.96 L596.36,393.46 L596.43,394.96 L596.50,396.47 L596.57,397.97 L596.64,399.48 L596.71,400.98 L596.78,402.49 L596.85,404.00 L596.93,405.51 L597.00,407.03 L597.07,408.54 L597.14,410.06 L597.22,411.59 L597.29,413.11 L597.37,414.64 L597.45,416.17 L597.50,417.70" stroke="#ff0000" stroke-width="1.9" fill="none" stroke-linejoin="round"/>
<path d="M378.70,261.80 L380.07,262.46 L381.44,263.09 L382.83,263.71 L384.21,264.33 L385.60,264.94 L386.99,265.54 L388.38,266.13 L389.77,266.72 L391.17,267.30 L392.57,267.88 L393.98,268.45 L395.38,269.01 L396.79,269.56 L398.20,270.11 L399.62,270.65 L401.03,271.18 L402.45,271.71 L403.87,272.23 L405.29,272.74 L406.72,273.25 L408.15,273.75 L409.58,274.24 L411.01,274.72 L412.45,275.20 L413.88,275.67 L415.32,276.14 L416.76,276.60 L418.21,277.05 L419.65,277.50 L421.10,277.93 L422.55,278.37 L424.00,278.79 L425.46,279.21 L426.91,279.62 L428.37,280.03 L429.83,280.42 L431.29,280.82 L432.75,281.20 L434.22,281.58 L435.68,281.95 L437.15,282.32 L438.62,282.67 L440.10,283.03 L441.57,283.37 L443.04,283.71 L444.52,284.04 L446.00,284.37 L447.48,284.68 L448.96,285.00 L450.44,285.30 L451.93,285.60 L453.41,285.89 L454.90,286.18 L456.39,286.46 L457.88,286.73 L459.37,287.00 L460.86,287.25 L462.35,287.51 L463.85,287.75 L465.34,287.99 L466.84,288.23 L468.34,288.45 L469.84,288.67 L471.34,288.89 L472.84,289.10 L474.34,289.30 L475.84,289.49 L477.35,289.68 L478.85,289.86 L480.36,290.04 L481.87,290.20 L483.37,290.37 L484.88,290.52 L486.39,290.67 L487.90,290.82 L489.41,290.96 L490.92,291.09 L492.43,291.22 L493.94,291.35 L495.45,291.47 L496.96,291.59 L498.48,291.71 L499.99,291.83 L501.50,291.94 L503.01,292.06 L504.52,292.17 L506.04,292.28 L507.55,292.39 L509.06,292.51 L510.57,292.62 L512.08,292.73 L513.59,292.85 L515.10,292.97 L516.61,293.09 L518.12,293.22 L519.62,293.35 L521.13,293.48 L522.64,293.61 L524.14,293.76 L525.65,293.90 L527.15,294.05 L528.65,294.21 L530.15,294.38 L531.65,294.55 L533.15,294.73 L534.65,294.91 L536.14,295.11 L537.63,295.31 L539.13,295.52 L540.62,295.75 L542.10,295.99 L543.58,296.24 L545.06,296.51 L546.54,296.80 L548.01,297.10 L549.47,297.43 L550.93,297.78 L552.38,298.15 L553.82,298.55 L555.26,298.98 L556.69,299.43 L558.11,299.91 L559.52,300.42 L560.93,300.95 L562.33,301.51 L563.73,302.10 L565.12,302.70 L566.50,303.32 L567.89,303.97 L569.27,304.63 L570.65,305.31 L572.03,306.00 L573.40,306.71 L574.78,307.43 L576.16,308.16 L577.54,308.90 L578.91,309.65 L580.28,310.42 L581.64,311.20 L582.99,312.00 L584.32,312.83 L585.62,313.67 L586.90,314.54 L588.15,315.43 L589.36,316.36 L590.53,317.31 L591.66,318.30 L592.73,319.33 L593.76,320.39 L594.73,321.49 L595.65,322.63 L596.50,323.81 L597.30,325.02 L598.03,326.26 L598.69,327.54 L599.29,328.86 L599.83,330.20 L600.30,331.58 L600.72,332.98 L601.09,334.41 L601.41,335.86 L601.69,337.33 L601.92,338.82 L602.12,340.33 L602.29,341.85 L602.44,343.38 L602.56,344.92 L602.66,346.46 L602.74,348.01 L602.82,349.57 L602.89,351.12 L602.95,352.67 L603.02,354.22 L603.09,355.76 L603.17,357.30 L603.24,358.84 L603.32,360.36 L603.40,361.89 L603.48,363.41 L603.56,364.93 L603.64,366.45 L603.72,367.96 L603.81,369.47 L603.89,370.98 L603.98,372.48 L604.07,373.99 L604.16,375.49 L604.24,376.99 L604.33,378.49 L604.42,379.98 L604.50,381.48 L604.59,382.98 L604.68,384.47 L604.76,385.97 L604.85,387.46 L604.93,388.96 L605.01,390.45 L605.09,391.95 L605.17,393.45 L605.25,394.95 L605.33,396.45 L605.40,397.95 L605.47,399.45 L605.54,400.95 L605.61,402.46 L605.67,403.97 L605.73,405.48 L605.79,407.00 L605.85,408.52 L605.90,410.04 L605.95,411.56 L605.99,413.09 L606.03,414.63 L606.07,416.16 L606.10,417.70" stroke="#000000" stroke-width="1.9" fill="none" stroke-linejoin="round"/>
<path d="M378.4,245.6 H627.6 Q629.1,245.6 629.1,247.1 V433.8 H378.4 Z" fill="none" stroke="#1e1e1e" stroke-width="1.3"/>
<path d="M374.09999999999997,433.80H378.4 M375.79999999999995,422.73H378.4 M374.09999999999997,411.66H378.4 M375.79999999999995,400.59H378.4 M374.09999999999997,389.52H378.4 M375.79999999999995,378.45H378.4 M374.09999999999997,367.38H378.4 M375.79999999999995,356.31H378.4 M374.09999999999997,345.24H378.4 M375.79999999999995,334.16H378.4 M374.09999999999997,323.09H378.4 M375.79999999999995,312.02H378.4 M374.09999999999997,300.95H378.4 M375.79999999999995,289.88H378.4 M374.09999999999997,278.81H378.4 M375.79999999999995,267.74H378.4 M374.09999999999997,256.67H378.4 M375.79999999999995,245.60H378.4 M378.40,433.8V437.8 M394.07,433.8V436.0 M409.74,433.8V437.8 M425.41,433.8V436.0 M441.07,433.8V437.8 M456.74,433.8V436.0 M472.41,433.8V437.8 M488.08,433.8V436.0 M503.75,433.8V437.8 M519.42,433.8V436.0 M535.09,433.8V437.8 M550.76,433.8V436.0 M566.42,433.8V437.8 M582.09,433.8V436.0 M597.76,433.8V437.8 M613.43,433.8V436.0 M629.10,433.8V437.8" stroke="#1e1e1e" stroke-width="1.3" fill="none"/>
<text x="370.50" y="436.50" class="tk" text-anchor="end">2.6</text>
<text x="370.50" y="414.36" class="tk" text-anchor="end">2.8</text>
<text x="370.50" y="392.22" class="tk" text-anchor="end">3.0</text>
<text x="370.50" y="370.08" class="tk" text-anchor="end">3.2</text>
<text x="370.50" y="347.94" class="tk" text-anchor="end">3.4</text>
<text x="370.50" y="325.79" class="tk" text-anchor="end">3.6</text>
<text x="370.50" y="303.65" class="tk" text-anchor="end">3.8</text>
<text x="370.50" y="281.51" class="tk" text-anchor="end">4.0</text>
<text x="370.50" y="259.37" class="tk" text-anchor="end">4.2</text>
<text x="377.60" y="447.40" class="tk" text-anchor="middle">0</text>
<text x="408.94" y="447.40" class="tk" text-anchor="middle">20</text>
<text x="440.27" y="447.40" class="tk" text-anchor="middle">40</text>
<text x="471.61" y="447.40" class="tk" text-anchor="middle">60</text>
<text x="502.95" y="447.40" class="tk" text-anchor="middle">80</text>
<text x="534.29" y="447.40" class="tk" text-anchor="middle">100</text>
<text x="565.62" y="447.40" class="tk" text-anchor="middle">120</text>
<text x="596.96" y="447.40" class="tk" text-anchor="middle">140</text>
<text x="628.30" y="447.40" class="tk" text-anchor="middle">160</text>
<text transform="translate(503.5,466.0) scale(1.03,1.2)" class="ttl" text-anchor="middle">Capacity/mAh g-1</text>
<text transform="translate(344.8,334.4) rotate(-90)" class="ttl" text-anchor="middle">Voltage/V</text>
<text transform="translate(318.3,271.3) scale(1.13,1)" class="pl">(d)</text>
<rect x="381.4" y="351.5" width="31.50" height="79.90" rx="1.2" fill="#fff" stroke="#222" stroke-width="1.3"/>
<path d="M381.6,356.00H397.9" stroke="#000000" stroke-width="2.2"/>
<text x="399.0" y="358.10" class="lg-sans2">0.5c</text>
<path d="M381.6,363.96H397.9" stroke="#000000" stroke-width="2.2" stroke-dasharray="6 2.6 1.6 2.8"/>
<text x="399.0" y="366.06" class="lg-sans2">0.5c</text>
<path d="M381.6,371.92H397.9" stroke="#ff0000" stroke-width="2.2"/>
<text x="399.0" y="374.02" class="lg-sans2">1c</text>
<path d="M381.6,379.88H397.9" stroke="#ff0000" stroke-width="2.2" stroke-dasharray="6 2.6 1.6 2.8"/>
<text x="399.0" y="381.98" class="lg-sans2">1c</text>
<path d="M381.6,387.84H397.9" stroke="#00ff00" stroke-width="2.2"/>
<text x="399.0" y="389.94" class="lg-sans2">2c</text>
<path d="M381.6,395.80H397.9" stroke="#00ff00" stroke-width="2.2" stroke-dasharray="6 2.6 1.6 2.8"/>
<text x="399.0" y="397.90" class="lg-sans2">2c</text>
<path d="M381.6,403.76H397.9" stroke="#0000ff" stroke-width="2.2"/>
<text x="399.0" y="405.86" class="lg-sans2">5c</text>
<path d="M381.6,411.72H397.9" stroke="#0000ff" stroke-width="2.2" stroke-dasharray="6 2.6 1.6 2.8"/>
<text x="399.0" y="413.82" class="lg-sans2">5c</text>
<path d="M381.6,419.68H397.9" stroke="#00ffff" stroke-width="2.2"/>
<text x="399.0" y="421.78" class="lg-sans2">8c</text>
<path d="M381.6,427.64H397.9" stroke="#00ffff" stroke-width="2.2" stroke-dasharray="6 2.6 1.6 2.8"/>
<text x="399.0" y="429.74" class="lg-sans2">8c</text>
</svg>
</body></html>
